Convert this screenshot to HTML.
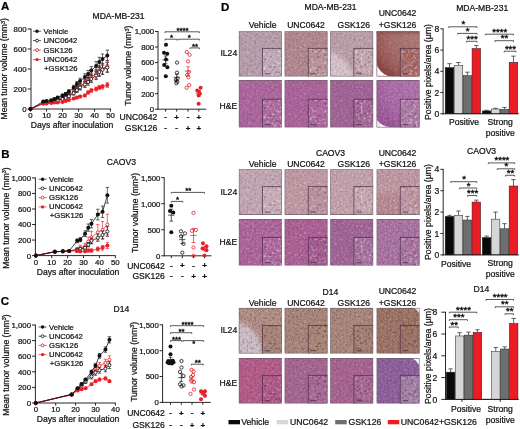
<!DOCTYPE html>
<html lang="en">
<head>
<meta charset="utf-8">
<title>Figure: tumor volume and IL24 staining</title>
<style>
html,body{margin:0;padding:0;background:#fff;}
body{width:520px;height:429px;overflow:hidden;}
body>svg{display:block;font-family:"Liberation Sans",sans-serif;filter:blur(0.3px);}
</style>
</head>
<body>
<svg width="520" height="429" viewBox="0 0 520 429">
<defs><filter id="tw0" x="0" y="0" width="100%" height="100%" color-interpolation-filters="sRGB"><feTurbulence type="fractalNoise" baseFrequency="0.45" numOctaves="2" seed="3"/><feColorMatrix type="matrix" values="0 0 0 0 1 0 0 0 0 1 0 0 0 0 1 3.4 0 0 0 -1.7"/><feComposite operator="in" in2="SourceGraphic"/></filter><filter id="td0" x="0" y="0" width="100%" height="100%" color-interpolation-filters="sRGB"><feTurbulence type="fractalNoise" baseFrequency="0.5" numOctaves="2" seed="11"/><feColorMatrix type="matrix" values="0 0 0 0 0.22 0 0 0 0 0.08 0 0 0 0 0.18 0 3.4 0 0 -1.7"/><feComposite operator="in" in2="SourceGraphic"/></filter><filter id="iw0" x="0" y="0" width="100%" height="100%" color-interpolation-filters="sRGB"><feTurbulence type="fractalNoise" baseFrequency="0.36" numOctaves="2" seed="23"/><feColorMatrix type="matrix" values="0 0 0 0 1 0 0 0 0 1 0 0 0 0 1 4 0 0 0 -2.1"/><feComposite operator="in" in2="SourceGraphic"/><feGaussianBlur stdDeviation="0.3"/></filter><filter id="id0" x="0" y="0" width="100%" height="100%" color-interpolation-filters="sRGB"><feTurbulence type="fractalNoise" baseFrequency="0.4" numOctaves="2" seed="41"/><feColorMatrix type="matrix" values="0 0 0 0 0.22 0 0 0 0 0.08 0 0 0 0 0.18 0 4 0 0 -2.1"/><feComposite operator="in" in2="SourceGraphic"/><feGaussianBlur stdDeviation="0.3"/></filter><filter id="tw1" x="0" y="0" width="100%" height="100%" color-interpolation-filters="sRGB"><feTurbulence type="fractalNoise" baseFrequency="0.45" numOctaves="2" seed="8"/><feColorMatrix type="matrix" values="0 0 0 0 1 0 0 0 0 1 0 0 0 0 1 3.4 0 0 0 -1.7"/><feComposite operator="in" in2="SourceGraphic"/></filter><filter id="td1" x="0" y="0" width="100%" height="100%" color-interpolation-filters="sRGB"><feTurbulence type="fractalNoise" baseFrequency="0.5" numOctaves="2" seed="18"/><feColorMatrix type="matrix" values="0 0 0 0 0.22 0 0 0 0 0.08 0 0 0 0 0.18 0 3.4 0 0 -1.7"/><feComposite operator="in" in2="SourceGraphic"/></filter><filter id="iw1" x="0" y="0" width="100%" height="100%" color-interpolation-filters="sRGB"><feTurbulence type="fractalNoise" baseFrequency="0.36" numOctaves="2" seed="26"/><feColorMatrix type="matrix" values="0 0 0 0 1 0 0 0 0 1 0 0 0 0 1 4 0 0 0 -2.1"/><feComposite operator="in" in2="SourceGraphic"/><feGaussianBlur stdDeviation="0.3"/></filter><filter id="id1" x="0" y="0" width="100%" height="100%" color-interpolation-filters="sRGB"><feTurbulence type="fractalNoise" baseFrequency="0.4" numOctaves="2" seed="44"/><feColorMatrix type="matrix" values="0 0 0 0 0.22 0 0 0 0 0.08 0 0 0 0 0.18 0 4 0 0 -2.1"/><feComposite operator="in" in2="SourceGraphic"/><feGaussianBlur stdDeviation="0.3"/></filter><filter id="tw2" x="0" y="0" width="100%" height="100%" color-interpolation-filters="sRGB"><feTurbulence type="fractalNoise" baseFrequency="0.45" numOctaves="2" seed="13"/><feColorMatrix type="matrix" values="0 0 0 0 1 0 0 0 0 1 0 0 0 0 1 3.4 0 0 0 -1.7"/><feComposite operator="in" in2="SourceGraphic"/></filter><filter id="td2" x="0" y="0" width="100%" height="100%" color-interpolation-filters="sRGB"><feTurbulence type="fractalNoise" baseFrequency="0.5" numOctaves="2" seed="25"/><feColorMatrix type="matrix" values="0 0 0 0 0.22 0 0 0 0 0.08 0 0 0 0 0.18 0 3.4 0 0 -1.7"/><feComposite operator="in" in2="SourceGraphic"/></filter><filter id="iw2" x="0" y="0" width="100%" height="100%" color-interpolation-filters="sRGB"><feTurbulence type="fractalNoise" baseFrequency="0.36" numOctaves="2" seed="29"/><feColorMatrix type="matrix" values="0 0 0 0 1 0 0 0 0 1 0 0 0 0 1 4 0 0 0 -2.1"/><feComposite operator="in" in2="SourceGraphic"/><feGaussianBlur stdDeviation="0.3"/></filter><filter id="id2" x="0" y="0" width="100%" height="100%" color-interpolation-filters="sRGB"><feTurbulence type="fractalNoise" baseFrequency="0.4" numOctaves="2" seed="47"/><feColorMatrix type="matrix" values="0 0 0 0 0.22 0 0 0 0 0.08 0 0 0 0 0.18 0 4 0 0 -2.1"/><feComposite operator="in" in2="SourceGraphic"/><feGaussianBlur stdDeviation="0.3"/></filter><filter id="tw3" x="0" y="0" width="100%" height="100%" color-interpolation-filters="sRGB"><feTurbulence type="fractalNoise" baseFrequency="0.45" numOctaves="2" seed="18"/><feColorMatrix type="matrix" values="0 0 0 0 1 0 0 0 0 1 0 0 0 0 1 3.4 0 0 0 -1.7"/><feComposite operator="in" in2="SourceGraphic"/></filter><filter id="td3" x="0" y="0" width="100%" height="100%" color-interpolation-filters="sRGB"><feTurbulence type="fractalNoise" baseFrequency="0.5" numOctaves="2" seed="32"/><feColorMatrix type="matrix" values="0 0 0 0 0.22 0 0 0 0 0.08 0 0 0 0 0.18 0 3.4 0 0 -1.7"/><feComposite operator="in" in2="SourceGraphic"/></filter><filter id="iw3" x="0" y="0" width="100%" height="100%" color-interpolation-filters="sRGB"><feTurbulence type="fractalNoise" baseFrequency="0.36" numOctaves="2" seed="32"/><feColorMatrix type="matrix" values="0 0 0 0 1 0 0 0 0 1 0 0 0 0 1 4 0 0 0 -2.1"/><feComposite operator="in" in2="SourceGraphic"/><feGaussianBlur stdDeviation="0.3"/></filter><filter id="id3" x="0" y="0" width="100%" height="100%" color-interpolation-filters="sRGB"><feTurbulence type="fractalNoise" baseFrequency="0.4" numOctaves="2" seed="50"/><feColorMatrix type="matrix" values="0 0 0 0 0.22 0 0 0 0 0.08 0 0 0 0 0.18 0 4 0 0 -2.1"/><feComposite operator="in" in2="SourceGraphic"/><feGaussianBlur stdDeviation="0.3"/></filter><radialGradient id="gM4" gradientUnits="userSpaceOnUse" cx="40" cy="4" r="50"><stop offset="0" stop-color="#ac7a76"/><stop offset="0.55" stop-color="#a46c6a"/><stop offset="0.8" stop-color="#9a5856"/><stop offset="0.95" stop-color="#894440"/><stop offset="1" stop-color="#894440"/></radialGradient><radialGradient id="gMH4" gradientUnits="userSpaceOnUse" cx="40" cy="4" r="52"><stop offset="0" stop-color="#ae72aa"/><stop offset="0.6" stop-color="#aa6aa8"/><stop offset="0.9" stop-color="#9a5896"/><stop offset="1" stop-color="#9a5896"/></radialGradient><filter id="soft" x="-30%" y="-30%" width="160%" height="160%"><feGaussianBlur stdDeviation="2.2"/></filter><filter id="soft1" x="-30%" y="-30%" width="160%" height="160%"><feGaussianBlur stdDeviation="0.6"/></filter><filter id="soft2" x="-30%" y="-60%" width="160%" height="220%"><feGaussianBlur stdDeviation="1.2"/></filter></defs>
<rect x="0" y="0" width="520" height="429" fill="#fff"/>
<g id="panelA">
<text x="1.00" y="9.80" font-size="11.5" font-weight="bold" fill="#000" stroke="#000" stroke-width="0.22">A</text>
<text x="118.50" y="19.30" font-size="8.6" text-anchor="middle" fill="#111" stroke="#111" stroke-width="0.22">MDA-MB-231</text>
<line x1="31.00" y1="28.60" x2="31.00" y2="109.40" stroke="#111" stroke-width="0.9"/>
<line x1="30.60" y1="109.00" x2="110.90" y2="109.00" stroke="#111" stroke-width="0.9"/>
<line x1="27.60" y1="109.00" x2="31.00" y2="109.00" stroke="#111" stroke-width="0.9"/>
<text x="26.60" y="111.90" font-size="7.8" text-anchor="end" fill="#111" stroke="#111" stroke-width="0.22">0</text>
<line x1="27.60" y1="89.00" x2="31.00" y2="89.00" stroke="#111" stroke-width="0.9"/>
<text x="26.60" y="91.90" font-size="7.8" text-anchor="end" fill="#111" stroke="#111" stroke-width="0.22">200</text>
<line x1="27.60" y1="69.00" x2="31.00" y2="69.00" stroke="#111" stroke-width="0.9"/>
<text x="26.60" y="71.90" font-size="7.8" text-anchor="end" fill="#111" stroke="#111" stroke-width="0.22">400</text>
<line x1="27.60" y1="49.00" x2="31.00" y2="49.00" stroke="#111" stroke-width="0.9"/>
<text x="26.60" y="51.90" font-size="7.8" text-anchor="end" fill="#111" stroke="#111" stroke-width="0.22">600</text>
<line x1="27.60" y1="29.00" x2="31.00" y2="29.00" stroke="#111" stroke-width="0.9"/>
<text x="26.60" y="31.90" font-size="7.8" text-anchor="end" fill="#111" stroke="#111" stroke-width="0.22">800</text>
<line x1="30.50" y1="109.00" x2="30.50" y2="111.60" stroke="#111" stroke-width="0.9"/>
<text x="30.50" y="118.20" font-size="7.8" text-anchor="middle" fill="#111" stroke="#111" stroke-width="0.22">0</text>
<line x1="46.50" y1="109.00" x2="46.50" y2="111.60" stroke="#111" stroke-width="0.9"/>
<text x="46.50" y="118.20" font-size="7.8" text-anchor="middle" fill="#111" stroke="#111" stroke-width="0.22">10</text>
<line x1="62.50" y1="109.00" x2="62.50" y2="111.60" stroke="#111" stroke-width="0.9"/>
<text x="62.50" y="118.20" font-size="7.8" text-anchor="middle" fill="#111" stroke="#111" stroke-width="0.22">20</text>
<line x1="78.50" y1="109.00" x2="78.50" y2="111.60" stroke="#111" stroke-width="0.9"/>
<text x="78.50" y="118.20" font-size="7.8" text-anchor="middle" fill="#111" stroke="#111" stroke-width="0.22">30</text>
<line x1="94.50" y1="109.00" x2="94.50" y2="111.60" stroke="#111" stroke-width="0.9"/>
<text x="94.50" y="118.20" font-size="7.8" text-anchor="middle" fill="#111" stroke="#111" stroke-width="0.22">40</text>
<line x1="110.50" y1="109.00" x2="110.50" y2="111.60" stroke="#111" stroke-width="0.9"/>
<text x="110.50" y="118.20" font-size="7.8" text-anchor="middle" fill="#111" stroke="#111" stroke-width="0.22">50</text>
<text x="7.40" y="68.80" font-size="8.6" text-anchor="middle" transform="rotate(-90 7.40 68.80)" fill="#111" stroke="#111" stroke-width="0.22">Mean tumor volume (mm<tspan font-size="5.5" dy="-2.6">3</tspan><tspan dy="2.6">)</tspan></text>
<text x="72.00" y="127.80" font-size="8.6" text-anchor="middle" fill="#111" stroke="#111" stroke-width="0.22">Days after inoculation</text>
<line x1="43.30" y1="101.99" x2="43.30" y2="103.61" stroke="#e8202a" stroke-width="0.65"/>
<line x1="41.60" y1="101.99" x2="45.00" y2="101.99" stroke="#e8202a" stroke-width="0.65"/>
<line x1="41.60" y1="103.61" x2="45.00" y2="103.61" stroke="#e8202a" stroke-width="0.65"/>
<line x1="46.50" y1="101.54" x2="46.50" y2="103.26" stroke="#e8202a" stroke-width="0.65"/>
<line x1="44.80" y1="101.54" x2="48.20" y2="101.54" stroke="#e8202a" stroke-width="0.65"/>
<line x1="44.80" y1="103.26" x2="48.20" y2="103.26" stroke="#e8202a" stroke-width="0.65"/>
<line x1="51.30" y1="100.64" x2="51.30" y2="102.56" stroke="#e8202a" stroke-width="0.65"/>
<line x1="49.60" y1="100.64" x2="53.00" y2="100.64" stroke="#e8202a" stroke-width="0.65"/>
<line x1="49.60" y1="102.56" x2="53.00" y2="102.56" stroke="#e8202a" stroke-width="0.65"/>
<line x1="54.50" y1="99.73" x2="54.50" y2="101.87" stroke="#e8202a" stroke-width="0.65"/>
<line x1="52.80" y1="99.73" x2="56.20" y2="99.73" stroke="#e8202a" stroke-width="0.65"/>
<line x1="52.80" y1="101.87" x2="56.20" y2="101.87" stroke="#e8202a" stroke-width="0.65"/>
<line x1="57.70" y1="98.60" x2="57.70" y2="101.00" stroke="#e8202a" stroke-width="0.65"/>
<line x1="56.00" y1="98.60" x2="59.40" y2="98.60" stroke="#e8202a" stroke-width="0.65"/>
<line x1="56.00" y1="101.00" x2="59.40" y2="101.00" stroke="#e8202a" stroke-width="0.65"/>
<line x1="62.50" y1="96.80" x2="62.50" y2="99.60" stroke="#e8202a" stroke-width="0.65"/>
<line x1="60.80" y1="96.80" x2="64.20" y2="96.80" stroke="#e8202a" stroke-width="0.65"/>
<line x1="60.80" y1="99.60" x2="64.20" y2="99.60" stroke="#e8202a" stroke-width="0.65"/>
<line x1="65.70" y1="95.21" x2="65.70" y2="98.39" stroke="#e8202a" stroke-width="0.65"/>
<line x1="64.00" y1="95.21" x2="67.40" y2="95.21" stroke="#e8202a" stroke-width="0.65"/>
<line x1="64.00" y1="98.39" x2="67.40" y2="98.39" stroke="#e8202a" stroke-width="0.65"/>
<line x1="68.90" y1="93.18" x2="68.90" y2="96.82" stroke="#e8202a" stroke-width="0.65"/>
<line x1="67.20" y1="93.18" x2="70.60" y2="93.18" stroke="#e8202a" stroke-width="0.65"/>
<line x1="67.20" y1="96.82" x2="70.60" y2="96.82" stroke="#e8202a" stroke-width="0.65"/>
<line x1="73.70" y1="89.56" x2="73.70" y2="94.04" stroke="#e8202a" stroke-width="0.65"/>
<line x1="72.00" y1="89.56" x2="75.40" y2="89.56" stroke="#e8202a" stroke-width="0.65"/>
<line x1="72.00" y1="94.04" x2="75.40" y2="94.04" stroke="#e8202a" stroke-width="0.65"/>
<line x1="76.90" y1="86.40" x2="76.90" y2="91.60" stroke="#e8202a" stroke-width="0.65"/>
<line x1="75.20" y1="86.40" x2="78.60" y2="86.40" stroke="#e8202a" stroke-width="0.65"/>
<line x1="75.20" y1="91.60" x2="78.60" y2="91.60" stroke="#e8202a" stroke-width="0.65"/>
<line x1="80.10" y1="83.24" x2="80.10" y2="89.16" stroke="#e8202a" stroke-width="0.65"/>
<line x1="78.40" y1="83.24" x2="81.80" y2="83.24" stroke="#e8202a" stroke-width="0.65"/>
<line x1="78.40" y1="89.16" x2="81.80" y2="89.16" stroke="#e8202a" stroke-width="0.65"/>
<line x1="84.90" y1="79.39" x2="84.90" y2="86.21" stroke="#e8202a" stroke-width="0.65"/>
<line x1="83.20" y1="79.39" x2="86.60" y2="79.39" stroke="#e8202a" stroke-width="0.65"/>
<line x1="83.20" y1="86.21" x2="86.60" y2="86.21" stroke="#e8202a" stroke-width="0.65"/>
<line x1="88.10" y1="76.23" x2="88.10" y2="83.77" stroke="#e8202a" stroke-width="0.65"/>
<line x1="86.40" y1="76.23" x2="89.80" y2="76.23" stroke="#e8202a" stroke-width="0.65"/>
<line x1="86.40" y1="83.77" x2="89.80" y2="83.77" stroke="#e8202a" stroke-width="0.65"/>
<line x1="91.30" y1="73.07" x2="91.30" y2="81.33" stroke="#e8202a" stroke-width="0.65"/>
<line x1="89.60" y1="73.07" x2="93.00" y2="73.07" stroke="#e8202a" stroke-width="0.65"/>
<line x1="89.60" y1="81.33" x2="93.00" y2="81.33" stroke="#e8202a" stroke-width="0.65"/>
<line x1="96.10" y1="69.22" x2="96.10" y2="78.38" stroke="#e8202a" stroke-width="0.65"/>
<line x1="94.40" y1="69.22" x2="97.80" y2="69.22" stroke="#e8202a" stroke-width="0.65"/>
<line x1="94.40" y1="78.38" x2="97.80" y2="78.38" stroke="#e8202a" stroke-width="0.65"/>
<line x1="99.30" y1="65.50" x2="99.30" y2="75.50" stroke="#e8202a" stroke-width="0.65"/>
<line x1="97.60" y1="65.50" x2="101.00" y2="65.50" stroke="#e8202a" stroke-width="0.65"/>
<line x1="97.60" y1="75.50" x2="101.00" y2="75.50" stroke="#e8202a" stroke-width="0.65"/>
<line x1="102.50" y1="63.23" x2="102.50" y2="73.77" stroke="#e8202a" stroke-width="0.65"/>
<line x1="100.80" y1="63.23" x2="104.20" y2="63.23" stroke="#e8202a" stroke-width="0.65"/>
<line x1="100.80" y1="73.77" x2="104.20" y2="73.77" stroke="#e8202a" stroke-width="0.65"/>
<line x1="107.30" y1="60.41" x2="107.30" y2="71.59" stroke="#e8202a" stroke-width="0.65"/>
<line x1="105.60" y1="60.41" x2="109.00" y2="60.41" stroke="#e8202a" stroke-width="0.65"/>
<line x1="105.60" y1="71.59" x2="109.00" y2="71.59" stroke="#e8202a" stroke-width="0.65"/>
<polyline points="30.50,109.00 43.30,102.80 46.50,102.40 51.30,101.60 54.50,100.80 57.70,99.80 62.50,98.20 65.70,96.80 68.90,95.00 73.70,91.80 76.90,89.00 80.10,86.20 84.90,82.80 88.10,80.00 91.30,77.20 96.10,73.80 99.30,70.50 102.50,68.50 107.30,66.00" fill="none" stroke="#e8202a" stroke-width="0.8"/>
<circle cx="30.50" cy="109.00" r="1.55" fill="#fff" stroke="#e8202a" stroke-width="0.85"/>
<circle cx="43.30" cy="102.80" r="1.55" fill="#fff" stroke="#e8202a" stroke-width="0.85"/>
<circle cx="46.50" cy="102.40" r="1.55" fill="#fff" stroke="#e8202a" stroke-width="0.85"/>
<circle cx="51.30" cy="101.60" r="1.55" fill="#fff" stroke="#e8202a" stroke-width="0.85"/>
<circle cx="54.50" cy="100.80" r="1.55" fill="#fff" stroke="#e8202a" stroke-width="0.85"/>
<circle cx="57.70" cy="99.80" r="1.55" fill="#fff" stroke="#e8202a" stroke-width="0.85"/>
<circle cx="62.50" cy="98.20" r="1.55" fill="#fff" stroke="#e8202a" stroke-width="0.85"/>
<circle cx="65.70" cy="96.80" r="1.55" fill="#fff" stroke="#e8202a" stroke-width="0.85"/>
<circle cx="68.90" cy="95.00" r="1.55" fill="#fff" stroke="#e8202a" stroke-width="0.85"/>
<circle cx="73.70" cy="91.80" r="1.55" fill="#fff" stroke="#e8202a" stroke-width="0.85"/>
<circle cx="76.90" cy="89.00" r="1.55" fill="#fff" stroke="#e8202a" stroke-width="0.85"/>
<circle cx="80.10" cy="86.20" r="1.55" fill="#fff" stroke="#e8202a" stroke-width="0.85"/>
<circle cx="84.90" cy="82.80" r="1.55" fill="#fff" stroke="#e8202a" stroke-width="0.85"/>
<circle cx="88.10" cy="80.00" r="1.55" fill="#fff" stroke="#e8202a" stroke-width="0.85"/>
<circle cx="91.30" cy="77.20" r="1.55" fill="#fff" stroke="#e8202a" stroke-width="0.85"/>
<circle cx="96.10" cy="73.80" r="1.55" fill="#fff" stroke="#e8202a" stroke-width="0.85"/>
<circle cx="99.30" cy="70.50" r="1.55" fill="#fff" stroke="#e8202a" stroke-width="0.85"/>
<circle cx="102.50" cy="68.50" r="1.55" fill="#fff" stroke="#e8202a" stroke-width="0.85"/>
<circle cx="107.30" cy="66.00" r="1.55" fill="#fff" stroke="#e8202a" stroke-width="0.85"/>
<line x1="43.30" y1="102.84" x2="43.30" y2="104.16" stroke="#111" stroke-width="0.65"/>
<line x1="41.60" y1="102.84" x2="45.00" y2="102.84" stroke="#111" stroke-width="0.65"/>
<line x1="41.60" y1="104.16" x2="45.00" y2="104.16" stroke="#111" stroke-width="0.65"/>
<line x1="46.50" y1="102.28" x2="46.50" y2="103.72" stroke="#111" stroke-width="0.65"/>
<line x1="44.80" y1="102.28" x2="48.20" y2="102.28" stroke="#111" stroke-width="0.65"/>
<line x1="44.80" y1="103.72" x2="48.20" y2="103.72" stroke="#111" stroke-width="0.65"/>
<line x1="51.30" y1="101.16" x2="51.30" y2="102.84" stroke="#111" stroke-width="0.65"/>
<line x1="49.60" y1="101.16" x2="53.00" y2="101.16" stroke="#111" stroke-width="0.65"/>
<line x1="49.60" y1="102.84" x2="53.00" y2="102.84" stroke="#111" stroke-width="0.65"/>
<line x1="54.50" y1="100.60" x2="54.50" y2="102.40" stroke="#111" stroke-width="0.65"/>
<line x1="52.80" y1="100.60" x2="56.20" y2="100.60" stroke="#111" stroke-width="0.65"/>
<line x1="52.80" y1="102.40" x2="56.20" y2="102.40" stroke="#111" stroke-width="0.65"/>
<line x1="57.70" y1="99.48" x2="57.70" y2="101.52" stroke="#111" stroke-width="0.65"/>
<line x1="56.00" y1="99.48" x2="59.40" y2="99.48" stroke="#111" stroke-width="0.65"/>
<line x1="56.00" y1="101.52" x2="59.40" y2="101.52" stroke="#111" stroke-width="0.65"/>
<line x1="62.50" y1="97.80" x2="62.50" y2="100.20" stroke="#111" stroke-width="0.65"/>
<line x1="60.80" y1="97.80" x2="64.20" y2="97.80" stroke="#111" stroke-width="0.65"/>
<line x1="60.80" y1="100.20" x2="64.20" y2="100.20" stroke="#111" stroke-width="0.65"/>
<line x1="65.70" y1="96.46" x2="65.70" y2="99.14" stroke="#111" stroke-width="0.65"/>
<line x1="64.00" y1="96.46" x2="67.40" y2="96.46" stroke="#111" stroke-width="0.65"/>
<line x1="64.00" y1="99.14" x2="67.40" y2="99.14" stroke="#111" stroke-width="0.65"/>
<line x1="68.90" y1="94.66" x2="68.90" y2="97.74" stroke="#111" stroke-width="0.65"/>
<line x1="67.20" y1="94.66" x2="70.60" y2="94.66" stroke="#111" stroke-width="0.65"/>
<line x1="67.20" y1="97.74" x2="70.60" y2="97.74" stroke="#111" stroke-width="0.65"/>
<line x1="73.70" y1="91.30" x2="73.70" y2="95.10" stroke="#111" stroke-width="0.65"/>
<line x1="72.00" y1="91.30" x2="75.40" y2="91.30" stroke="#111" stroke-width="0.65"/>
<line x1="72.00" y1="95.10" x2="75.40" y2="95.10" stroke="#111" stroke-width="0.65"/>
<line x1="76.90" y1="87.94" x2="76.90" y2="92.46" stroke="#111" stroke-width="0.65"/>
<line x1="75.20" y1="87.94" x2="78.60" y2="87.94" stroke="#111" stroke-width="0.65"/>
<line x1="75.20" y1="92.46" x2="78.60" y2="92.46" stroke="#111" stroke-width="0.65"/>
<line x1="80.10" y1="84.92" x2="80.10" y2="90.08" stroke="#111" stroke-width="0.65"/>
<line x1="78.40" y1="84.92" x2="81.80" y2="84.92" stroke="#111" stroke-width="0.65"/>
<line x1="78.40" y1="90.08" x2="81.80" y2="90.08" stroke="#111" stroke-width="0.65"/>
<line x1="84.90" y1="81.56" x2="84.90" y2="87.44" stroke="#111" stroke-width="0.65"/>
<line x1="83.20" y1="81.56" x2="86.60" y2="81.56" stroke="#111" stroke-width="0.65"/>
<line x1="83.20" y1="87.44" x2="86.60" y2="87.44" stroke="#111" stroke-width="0.65"/>
<line x1="88.10" y1="78.76" x2="88.10" y2="85.24" stroke="#111" stroke-width="0.65"/>
<line x1="86.40" y1="78.76" x2="89.80" y2="78.76" stroke="#111" stroke-width="0.65"/>
<line x1="86.40" y1="85.24" x2="89.80" y2="85.24" stroke="#111" stroke-width="0.65"/>
<line x1="91.30" y1="75.40" x2="91.30" y2="82.60" stroke="#111" stroke-width="0.65"/>
<line x1="89.60" y1="75.40" x2="93.00" y2="75.40" stroke="#111" stroke-width="0.65"/>
<line x1="89.60" y1="82.60" x2="93.00" y2="82.60" stroke="#111" stroke-width="0.65"/>
<line x1="96.10" y1="71.48" x2="96.10" y2="79.52" stroke="#111" stroke-width="0.65"/>
<line x1="94.40" y1="71.48" x2="97.80" y2="71.48" stroke="#111" stroke-width="0.65"/>
<line x1="94.40" y1="79.52" x2="97.80" y2="79.52" stroke="#111" stroke-width="0.65"/>
<line x1="99.30" y1="67.56" x2="99.30" y2="76.44" stroke="#111" stroke-width="0.65"/>
<line x1="97.60" y1="67.56" x2="101.00" y2="67.56" stroke="#111" stroke-width="0.65"/>
<line x1="97.60" y1="76.44" x2="101.00" y2="76.44" stroke="#111" stroke-width="0.65"/>
<line x1="102.50" y1="65.10" x2="102.50" y2="74.50" stroke="#111" stroke-width="0.65"/>
<line x1="100.80" y1="65.10" x2="104.20" y2="65.10" stroke="#111" stroke-width="0.65"/>
<line x1="100.80" y1="74.50" x2="104.20" y2="74.50" stroke="#111" stroke-width="0.65"/>
<line x1="107.30" y1="62.52" x2="107.30" y2="72.48" stroke="#111" stroke-width="0.65"/>
<line x1="105.60" y1="62.52" x2="109.00" y2="62.52" stroke="#111" stroke-width="0.65"/>
<line x1="105.60" y1="72.48" x2="109.00" y2="72.48" stroke="#111" stroke-width="0.65"/>
<polyline points="30.50,109.00 43.30,103.50 46.50,103.00 51.30,102.00 54.50,101.50 57.70,100.50 62.50,99.00 65.70,97.80 68.90,96.20 73.70,93.20 76.90,90.20 80.10,87.50 84.90,84.50 88.10,82.00 91.30,79.00 96.10,75.50 99.30,72.00 102.50,69.80 107.30,67.50" fill="none" stroke="#111" stroke-width="0.8"/>
<circle cx="30.50" cy="109.00" r="1.55" fill="#fff" stroke="#111" stroke-width="0.85"/>
<circle cx="43.30" cy="103.50" r="1.55" fill="#fff" stroke="#111" stroke-width="0.85"/>
<circle cx="46.50" cy="103.00" r="1.55" fill="#fff" stroke="#111" stroke-width="0.85"/>
<circle cx="51.30" cy="102.00" r="1.55" fill="#fff" stroke="#111" stroke-width="0.85"/>
<circle cx="54.50" cy="101.50" r="1.55" fill="#fff" stroke="#111" stroke-width="0.85"/>
<circle cx="57.70" cy="100.50" r="1.55" fill="#fff" stroke="#111" stroke-width="0.85"/>
<circle cx="62.50" cy="99.00" r="1.55" fill="#fff" stroke="#111" stroke-width="0.85"/>
<circle cx="65.70" cy="97.80" r="1.55" fill="#fff" stroke="#111" stroke-width="0.85"/>
<circle cx="68.90" cy="96.20" r="1.55" fill="#fff" stroke="#111" stroke-width="0.85"/>
<circle cx="73.70" cy="93.20" r="1.55" fill="#fff" stroke="#111" stroke-width="0.85"/>
<circle cx="76.90" cy="90.20" r="1.55" fill="#fff" stroke="#111" stroke-width="0.85"/>
<circle cx="80.10" cy="87.50" r="1.55" fill="#fff" stroke="#111" stroke-width="0.85"/>
<circle cx="84.90" cy="84.50" r="1.55" fill="#fff" stroke="#111" stroke-width="0.85"/>
<circle cx="88.10" cy="82.00" r="1.55" fill="#fff" stroke="#111" stroke-width="0.85"/>
<circle cx="91.30" cy="79.00" r="1.55" fill="#fff" stroke="#111" stroke-width="0.85"/>
<circle cx="96.10" cy="75.50" r="1.55" fill="#fff" stroke="#111" stroke-width="0.85"/>
<circle cx="99.30" cy="72.00" r="1.55" fill="#fff" stroke="#111" stroke-width="0.85"/>
<circle cx="102.50" cy="69.80" r="1.55" fill="#fff" stroke="#111" stroke-width="0.85"/>
<circle cx="107.30" cy="67.50" r="1.55" fill="#fff" stroke="#111" stroke-width="0.85"/>
<line x1="43.30" y1="102.95" x2="43.30" y2="104.05" stroke="#e8202a" stroke-width="0.65"/>
<line x1="41.60" y1="102.95" x2="45.00" y2="102.95" stroke="#e8202a" stroke-width="0.65"/>
<line x1="41.60" y1="104.05" x2="45.00" y2="104.05" stroke="#e8202a" stroke-width="0.65"/>
<line x1="46.50" y1="102.95" x2="46.50" y2="104.05" stroke="#e8202a" stroke-width="0.65"/>
<line x1="44.80" y1="102.95" x2="48.20" y2="102.95" stroke="#e8202a" stroke-width="0.65"/>
<line x1="44.80" y1="104.05" x2="48.20" y2="104.05" stroke="#e8202a" stroke-width="0.65"/>
<line x1="51.30" y1="102.40" x2="51.30" y2="103.60" stroke="#e8202a" stroke-width="0.65"/>
<line x1="49.60" y1="102.40" x2="53.00" y2="102.40" stroke="#e8202a" stroke-width="0.65"/>
<line x1="49.60" y1="103.60" x2="53.00" y2="103.60" stroke="#e8202a" stroke-width="0.65"/>
<line x1="54.50" y1="101.96" x2="54.50" y2="103.24" stroke="#e8202a" stroke-width="0.65"/>
<line x1="52.80" y1="101.96" x2="56.20" y2="101.96" stroke="#e8202a" stroke-width="0.65"/>
<line x1="52.80" y1="103.24" x2="56.20" y2="103.24" stroke="#e8202a" stroke-width="0.65"/>
<line x1="57.70" y1="101.74" x2="57.70" y2="103.06" stroke="#e8202a" stroke-width="0.65"/>
<line x1="56.00" y1="101.74" x2="59.40" y2="101.74" stroke="#e8202a" stroke-width="0.65"/>
<line x1="56.00" y1="103.06" x2="59.40" y2="103.06" stroke="#e8202a" stroke-width="0.65"/>
<line x1="62.50" y1="101.30" x2="62.50" y2="102.70" stroke="#e8202a" stroke-width="0.65"/>
<line x1="60.80" y1="101.30" x2="64.20" y2="101.30" stroke="#e8202a" stroke-width="0.65"/>
<line x1="60.80" y1="102.70" x2="64.20" y2="102.70" stroke="#e8202a" stroke-width="0.65"/>
<line x1="65.70" y1="100.20" x2="65.70" y2="101.80" stroke="#e8202a" stroke-width="0.65"/>
<line x1="64.00" y1="100.20" x2="67.40" y2="100.20" stroke="#e8202a" stroke-width="0.65"/>
<line x1="64.00" y1="101.80" x2="67.40" y2="101.80" stroke="#e8202a" stroke-width="0.65"/>
<line x1="68.90" y1="99.10" x2="68.90" y2="100.90" stroke="#e8202a" stroke-width="0.65"/>
<line x1="67.20" y1="99.10" x2="70.60" y2="99.10" stroke="#e8202a" stroke-width="0.65"/>
<line x1="67.20" y1="100.90" x2="70.60" y2="100.90" stroke="#e8202a" stroke-width="0.65"/>
<line x1="73.70" y1="97.56" x2="73.70" y2="99.64" stroke="#e8202a" stroke-width="0.65"/>
<line x1="72.00" y1="97.56" x2="75.40" y2="97.56" stroke="#e8202a" stroke-width="0.65"/>
<line x1="72.00" y1="99.64" x2="75.40" y2="99.64" stroke="#e8202a" stroke-width="0.65"/>
<line x1="76.90" y1="96.46" x2="76.90" y2="98.74" stroke="#e8202a" stroke-width="0.65"/>
<line x1="75.20" y1="96.46" x2="78.60" y2="96.46" stroke="#e8202a" stroke-width="0.65"/>
<line x1="75.20" y1="98.74" x2="78.60" y2="98.74" stroke="#e8202a" stroke-width="0.65"/>
<line x1="80.10" y1="95.36" x2="80.10" y2="97.84" stroke="#e8202a" stroke-width="0.65"/>
<line x1="78.40" y1="95.36" x2="81.80" y2="95.36" stroke="#e8202a" stroke-width="0.65"/>
<line x1="78.40" y1="97.84" x2="81.80" y2="97.84" stroke="#e8202a" stroke-width="0.65"/>
<line x1="84.90" y1="94.04" x2="84.90" y2="96.76" stroke="#e8202a" stroke-width="0.65"/>
<line x1="83.20" y1="94.04" x2="86.60" y2="94.04" stroke="#e8202a" stroke-width="0.65"/>
<line x1="83.20" y1="96.76" x2="86.60" y2="96.76" stroke="#e8202a" stroke-width="0.65"/>
<line x1="88.10" y1="90.85" x2="88.10" y2="94.15" stroke="#e8202a" stroke-width="0.65"/>
<line x1="86.40" y1="90.85" x2="89.80" y2="90.85" stroke="#e8202a" stroke-width="0.65"/>
<line x1="86.40" y1="94.15" x2="89.80" y2="94.15" stroke="#e8202a" stroke-width="0.65"/>
<line x1="91.30" y1="88.65" x2="91.30" y2="92.35" stroke="#e8202a" stroke-width="0.65"/>
<line x1="89.60" y1="88.65" x2="93.00" y2="88.65" stroke="#e8202a" stroke-width="0.65"/>
<line x1="89.60" y1="92.35" x2="93.00" y2="92.35" stroke="#e8202a" stroke-width="0.65"/>
<line x1="96.10" y1="87.00" x2="96.10" y2="91.00" stroke="#e8202a" stroke-width="0.65"/>
<line x1="94.40" y1="87.00" x2="97.80" y2="87.00" stroke="#e8202a" stroke-width="0.65"/>
<line x1="94.40" y1="91.00" x2="97.80" y2="91.00" stroke="#e8202a" stroke-width="0.65"/>
<line x1="99.30" y1="85.46" x2="99.30" y2="89.74" stroke="#e8202a" stroke-width="0.65"/>
<line x1="97.60" y1="85.46" x2="101.00" y2="85.46" stroke="#e8202a" stroke-width="0.65"/>
<line x1="97.60" y1="89.74" x2="101.00" y2="89.74" stroke="#e8202a" stroke-width="0.65"/>
<line x1="102.50" y1="84.58" x2="102.50" y2="89.02" stroke="#e8202a" stroke-width="0.65"/>
<line x1="100.80" y1="84.58" x2="104.20" y2="84.58" stroke="#e8202a" stroke-width="0.65"/>
<line x1="100.80" y1="89.02" x2="104.20" y2="89.02" stroke="#e8202a" stroke-width="0.65"/>
<line x1="107.30" y1="82.60" x2="107.30" y2="87.40" stroke="#e8202a" stroke-width="0.65"/>
<line x1="105.60" y1="82.60" x2="109.00" y2="82.60" stroke="#e8202a" stroke-width="0.65"/>
<line x1="105.60" y1="87.40" x2="109.00" y2="87.40" stroke="#e8202a" stroke-width="0.65"/>
<polyline points="30.50,109.00 43.30,103.50 46.50,103.50 51.30,103.00 54.50,102.60 57.70,102.40 62.50,102.00 65.70,101.00 68.90,100.00 73.70,98.60 76.90,97.60 80.10,96.60 84.90,95.40 88.10,92.50 91.30,90.50 96.10,89.00 99.30,87.60 102.50,86.80 107.30,85.00" fill="none" stroke="#e8202a" stroke-width="0.8"/>
<circle cx="30.50" cy="109.00" r="2.0" fill="#e8202a"/>
<circle cx="43.30" cy="103.50" r="2.0" fill="#e8202a"/>
<circle cx="46.50" cy="103.50" r="2.0" fill="#e8202a"/>
<circle cx="51.30" cy="103.00" r="2.0" fill="#e8202a"/>
<circle cx="54.50" cy="102.60" r="2.0" fill="#e8202a"/>
<circle cx="57.70" cy="102.40" r="2.0" fill="#e8202a"/>
<circle cx="62.50" cy="102.00" r="2.0" fill="#e8202a"/>
<circle cx="65.70" cy="101.00" r="2.0" fill="#e8202a"/>
<circle cx="68.90" cy="100.00" r="2.0" fill="#e8202a"/>
<circle cx="73.70" cy="98.60" r="2.0" fill="#e8202a"/>
<circle cx="76.90" cy="97.60" r="2.0" fill="#e8202a"/>
<circle cx="80.10" cy="96.60" r="2.0" fill="#e8202a"/>
<circle cx="84.90" cy="95.40" r="2.0" fill="#e8202a"/>
<circle cx="88.10" cy="92.50" r="2.0" fill="#e8202a"/>
<circle cx="91.30" cy="90.50" r="2.0" fill="#e8202a"/>
<circle cx="96.10" cy="89.00" r="2.0" fill="#e8202a"/>
<circle cx="99.30" cy="87.60" r="2.0" fill="#e8202a"/>
<circle cx="102.50" cy="86.80" r="2.0" fill="#e8202a"/>
<circle cx="107.30" cy="85.00" r="2.0" fill="#e8202a"/>
<line x1="43.30" y1="100.75" x2="43.30" y2="102.25" stroke="#111" stroke-width="0.65"/>
<line x1="41.60" y1="100.75" x2="45.00" y2="100.75" stroke="#111" stroke-width="0.65"/>
<line x1="41.60" y1="102.25" x2="45.00" y2="102.25" stroke="#111" stroke-width="0.65"/>
<line x1="46.50" y1="100.20" x2="46.50" y2="101.80" stroke="#111" stroke-width="0.65"/>
<line x1="44.80" y1="100.20" x2="48.20" y2="100.20" stroke="#111" stroke-width="0.65"/>
<line x1="44.80" y1="101.80" x2="48.20" y2="101.80" stroke="#111" stroke-width="0.65"/>
<line x1="51.30" y1="99.32" x2="51.30" y2="101.08" stroke="#111" stroke-width="0.65"/>
<line x1="49.60" y1="99.32" x2="53.00" y2="99.32" stroke="#111" stroke-width="0.65"/>
<line x1="49.60" y1="101.08" x2="53.00" y2="101.08" stroke="#111" stroke-width="0.65"/>
<line x1="54.50" y1="98.00" x2="54.50" y2="100.00" stroke="#111" stroke-width="0.65"/>
<line x1="52.80" y1="98.00" x2="56.20" y2="98.00" stroke="#111" stroke-width="0.65"/>
<line x1="52.80" y1="100.00" x2="56.20" y2="100.00" stroke="#111" stroke-width="0.65"/>
<line x1="57.70" y1="96.35" x2="57.70" y2="98.65" stroke="#111" stroke-width="0.65"/>
<line x1="56.00" y1="96.35" x2="59.40" y2="96.35" stroke="#111" stroke-width="0.65"/>
<line x1="56.00" y1="98.65" x2="59.40" y2="98.65" stroke="#111" stroke-width="0.65"/>
<line x1="62.50" y1="94.15" x2="62.50" y2="96.85" stroke="#111" stroke-width="0.65"/>
<line x1="60.80" y1="94.15" x2="64.20" y2="94.15" stroke="#111" stroke-width="0.65"/>
<line x1="60.80" y1="96.85" x2="64.20" y2="96.85" stroke="#111" stroke-width="0.65"/>
<line x1="65.70" y1="92.50" x2="65.70" y2="95.50" stroke="#111" stroke-width="0.65"/>
<line x1="64.00" y1="92.50" x2="67.40" y2="92.50" stroke="#111" stroke-width="0.65"/>
<line x1="64.00" y1="95.50" x2="67.40" y2="95.50" stroke="#111" stroke-width="0.65"/>
<line x1="68.90" y1="89.75" x2="68.90" y2="93.25" stroke="#111" stroke-width="0.65"/>
<line x1="67.20" y1="89.75" x2="70.60" y2="89.75" stroke="#111" stroke-width="0.65"/>
<line x1="67.20" y1="93.25" x2="70.60" y2="93.25" stroke="#111" stroke-width="0.65"/>
<line x1="73.70" y1="85.35" x2="73.70" y2="89.65" stroke="#111" stroke-width="0.65"/>
<line x1="72.00" y1="85.35" x2="75.40" y2="85.35" stroke="#111" stroke-width="0.65"/>
<line x1="72.00" y1="89.65" x2="75.40" y2="89.65" stroke="#111" stroke-width="0.65"/>
<line x1="76.90" y1="81.50" x2="76.90" y2="86.50" stroke="#111" stroke-width="0.65"/>
<line x1="75.20" y1="81.50" x2="78.60" y2="81.50" stroke="#111" stroke-width="0.65"/>
<line x1="75.20" y1="86.50" x2="78.60" y2="86.50" stroke="#111" stroke-width="0.65"/>
<line x1="80.10" y1="78.20" x2="80.10" y2="83.80" stroke="#111" stroke-width="0.65"/>
<line x1="78.40" y1="78.20" x2="81.80" y2="78.20" stroke="#111" stroke-width="0.65"/>
<line x1="78.40" y1="83.80" x2="81.80" y2="83.80" stroke="#111" stroke-width="0.65"/>
<line x1="84.90" y1="73.80" x2="84.90" y2="80.20" stroke="#111" stroke-width="0.65"/>
<line x1="83.20" y1="73.80" x2="86.60" y2="73.80" stroke="#111" stroke-width="0.65"/>
<line x1="83.20" y1="80.20" x2="86.60" y2="80.20" stroke="#111" stroke-width="0.65"/>
<line x1="88.10" y1="70.50" x2="88.10" y2="77.50" stroke="#111" stroke-width="0.65"/>
<line x1="86.40" y1="70.50" x2="89.80" y2="70.50" stroke="#111" stroke-width="0.65"/>
<line x1="86.40" y1="77.50" x2="89.80" y2="77.50" stroke="#111" stroke-width="0.65"/>
<line x1="91.30" y1="66.65" x2="91.30" y2="74.35" stroke="#111" stroke-width="0.65"/>
<line x1="89.60" y1="66.65" x2="93.00" y2="66.65" stroke="#111" stroke-width="0.65"/>
<line x1="89.60" y1="74.35" x2="93.00" y2="74.35" stroke="#111" stroke-width="0.65"/>
<line x1="96.10" y1="61.70" x2="96.10" y2="70.30" stroke="#111" stroke-width="0.65"/>
<line x1="94.40" y1="61.70" x2="97.80" y2="61.70" stroke="#111" stroke-width="0.65"/>
<line x1="94.40" y1="70.30" x2="97.80" y2="70.30" stroke="#111" stroke-width="0.65"/>
<line x1="99.30" y1="57.30" x2="99.30" y2="66.70" stroke="#111" stroke-width="0.65"/>
<line x1="97.60" y1="57.30" x2="101.00" y2="57.30" stroke="#111" stroke-width="0.65"/>
<line x1="97.60" y1="66.70" x2="101.00" y2="66.70" stroke="#111" stroke-width="0.65"/>
<line x1="102.50" y1="54.00" x2="102.50" y2="64.00" stroke="#111" stroke-width="0.65"/>
<line x1="100.80" y1="54.00" x2="104.20" y2="54.00" stroke="#111" stroke-width="0.65"/>
<line x1="100.80" y1="64.00" x2="104.20" y2="64.00" stroke="#111" stroke-width="0.65"/>
<line x1="107.30" y1="50.15" x2="107.30" y2="60.85" stroke="#111" stroke-width="0.65"/>
<line x1="105.60" y1="50.15" x2="109.00" y2="50.15" stroke="#111" stroke-width="0.65"/>
<line x1="105.60" y1="60.85" x2="109.00" y2="60.85" stroke="#111" stroke-width="0.65"/>
<polyline points="30.50,109.00 43.30,101.50 46.50,101.00 51.30,100.20 54.50,99.00 57.70,97.50 62.50,95.50 65.70,94.00 68.90,91.50 73.70,87.50 76.90,84.00 80.10,81.00 84.90,77.00 88.10,74.00 91.30,70.50 96.10,66.00 99.30,62.00 102.50,59.00 107.30,55.50" fill="none" stroke="#111" stroke-width="0.8"/>
<circle cx="30.50" cy="109.00" r="2.0" fill="#111"/>
<circle cx="43.30" cy="101.50" r="2.0" fill="#111"/>
<circle cx="46.50" cy="101.00" r="2.0" fill="#111"/>
<circle cx="51.30" cy="100.20" r="2.0" fill="#111"/>
<circle cx="54.50" cy="99.00" r="2.0" fill="#111"/>
<circle cx="57.70" cy="97.50" r="2.0" fill="#111"/>
<circle cx="62.50" cy="95.50" r="2.0" fill="#111"/>
<circle cx="65.70" cy="94.00" r="2.0" fill="#111"/>
<circle cx="68.90" cy="91.50" r="2.0" fill="#111"/>
<circle cx="73.70" cy="87.50" r="2.0" fill="#111"/>
<circle cx="76.90" cy="84.00" r="2.0" fill="#111"/>
<circle cx="80.10" cy="81.00" r="2.0" fill="#111"/>
<circle cx="84.90" cy="77.00" r="2.0" fill="#111"/>
<circle cx="88.10" cy="74.00" r="2.0" fill="#111"/>
<circle cx="91.30" cy="70.50" r="2.0" fill="#111"/>
<circle cx="96.10" cy="66.00" r="2.0" fill="#111"/>
<circle cx="99.30" cy="62.00" r="2.0" fill="#111"/>
<circle cx="102.50" cy="59.00" r="2.0" fill="#111"/>
<circle cx="107.30" cy="55.50" r="2.0" fill="#111"/>
<line x1="33.00" y1="31.20" x2="41.00" y2="31.20" stroke="#111" stroke-width="0.7"/>
<circle cx="37.00" cy="31.20" r="1.7" fill="#111"/>
<text x="43.50" y="33.70" font-size="7.7" fill="#111" stroke="#111" stroke-width="0.22">Vehicle</text>
<line x1="33.00" y1="40.60" x2="41.00" y2="40.60" stroke="#111" stroke-width="0.7"/>
<circle cx="37.00" cy="40.60" r="1.45" fill="#fff" stroke="#111" stroke-width="0.85"/>
<text x="43.50" y="43.10" font-size="7.7" fill="#111" stroke="#111" stroke-width="0.22">UNC0642</text>
<line x1="33.00" y1="50.10" x2="41.00" y2="50.10" stroke="#e8202a" stroke-width="0.7"/>
<circle cx="37.00" cy="50.10" r="1.45" fill="#fff" stroke="#e8202a" stroke-width="0.85"/>
<text x="43.50" y="52.60" font-size="7.7" fill="#111" stroke="#111" stroke-width="0.22">GSK126</text>
<line x1="33.00" y1="59.60" x2="41.00" y2="59.60" stroke="#e8202a" stroke-width="0.7"/>
<circle cx="37.00" cy="59.60" r="1.7" fill="#e8202a"/>
<text x="43.50" y="62.10" font-size="7.7" fill="#111" stroke="#111" stroke-width="0.22">UNC0642</text>
<text x="44.10" y="71.10" font-size="7.7" fill="#111" stroke="#111" stroke-width="0.22">+GSK126</text>
</g>
<g id="panelB">
<text x="1.20" y="157.90" font-size="11.5" font-weight="bold" fill="#000" stroke="#000" stroke-width="0.22">B</text>
<text x="121.40" y="165.00" font-size="8.6" text-anchor="middle" fill="#111" stroke="#111" stroke-width="0.22">CAOV3</text>
<line x1="35.40" y1="177.50" x2="35.40" y2="256.00" stroke="#111" stroke-width="0.9"/>
<line x1="35.00" y1="255.60" x2="115.70" y2="255.60" stroke="#111" stroke-width="0.9"/>
<line x1="32.00" y1="255.60" x2="35.40" y2="255.60" stroke="#111" stroke-width="0.9"/>
<text x="31.00" y="258.50" font-size="7.8" text-anchor="end" fill="#111" stroke="#111" stroke-width="0.22">0</text>
<line x1="32.00" y1="240.06" x2="35.40" y2="240.06" stroke="#111" stroke-width="0.9"/>
<text x="31.00" y="242.96" font-size="7.8" text-anchor="end" fill="#111" stroke="#111" stroke-width="0.22">200</text>
<line x1="32.00" y1="224.52" x2="35.40" y2="224.52" stroke="#111" stroke-width="0.9"/>
<text x="31.00" y="227.42" font-size="7.8" text-anchor="end" fill="#111" stroke="#111" stroke-width="0.22">400</text>
<line x1="32.00" y1="208.98" x2="35.40" y2="208.98" stroke="#111" stroke-width="0.9"/>
<text x="31.00" y="211.88" font-size="7.8" text-anchor="end" fill="#111" stroke="#111" stroke-width="0.22">600</text>
<line x1="32.00" y1="193.44" x2="35.40" y2="193.44" stroke="#111" stroke-width="0.9"/>
<text x="31.00" y="196.34" font-size="7.8" text-anchor="end" fill="#111" stroke="#111" stroke-width="0.22">800</text>
<line x1="32.00" y1="177.90" x2="35.40" y2="177.90" stroke="#111" stroke-width="0.9"/>
<text x="31.00" y="180.80" font-size="7.8" text-anchor="end" fill="#111" stroke="#111" stroke-width="0.22">1,000</text>
<line x1="35.80" y1="255.60" x2="35.80" y2="258.20" stroke="#111" stroke-width="0.9"/>
<text x="35.80" y="265.30" font-size="7.8" text-anchor="middle" fill="#111" stroke="#111" stroke-width="0.22">0</text>
<line x1="51.70" y1="255.60" x2="51.70" y2="258.20" stroke="#111" stroke-width="0.9"/>
<text x="51.70" y="265.30" font-size="7.8" text-anchor="middle" fill="#111" stroke="#111" stroke-width="0.22">10</text>
<line x1="67.60" y1="255.60" x2="67.60" y2="258.20" stroke="#111" stroke-width="0.9"/>
<text x="67.60" y="265.30" font-size="7.8" text-anchor="middle" fill="#111" stroke="#111" stroke-width="0.22">20</text>
<line x1="83.50" y1="255.60" x2="83.50" y2="258.20" stroke="#111" stroke-width="0.9"/>
<text x="83.50" y="265.30" font-size="7.8" text-anchor="middle" fill="#111" stroke="#111" stroke-width="0.22">30</text>
<line x1="99.40" y1="255.60" x2="99.40" y2="258.20" stroke="#111" stroke-width="0.9"/>
<text x="99.40" y="265.30" font-size="7.8" text-anchor="middle" fill="#111" stroke="#111" stroke-width="0.22">40</text>
<line x1="115.30" y1="255.60" x2="115.30" y2="258.20" stroke="#111" stroke-width="0.9"/>
<text x="115.30" y="265.30" font-size="7.8" text-anchor="middle" fill="#111" stroke="#111" stroke-width="0.22">50</text>
<text x="8.80" y="218.00" font-size="8.6" text-anchor="middle" transform="rotate(-90 8.80 218.00)" fill="#111" stroke="#111" stroke-width="0.22">Mean tumor volume (mm<tspan font-size="5.5" dy="-2.6">3</tspan><tspan dy="2.6">)</tspan></text>
<text x="78.00" y="274.80" font-size="8.6" text-anchor="middle" fill="#111" stroke="#111" stroke-width="0.22">Days after inoculation</text>
<line x1="77.14" y1="247.33" x2="77.14" y2="251.44" stroke="#e8202a" stroke-width="0.65"/>
<line x1="75.44" y1="247.33" x2="78.84" y2="247.33" stroke="#e8202a" stroke-width="0.65"/>
<line x1="75.44" y1="251.44" x2="78.84" y2="251.44" stroke="#e8202a" stroke-width="0.65"/>
<line x1="80.32" y1="245.27" x2="80.32" y2="250.39" stroke="#e8202a" stroke-width="0.65"/>
<line x1="78.62" y1="245.27" x2="82.02" y2="245.27" stroke="#e8202a" stroke-width="0.65"/>
<line x1="78.62" y1="250.39" x2="82.02" y2="250.39" stroke="#e8202a" stroke-width="0.65"/>
<line x1="85.09" y1="243.20" x2="85.09" y2="249.35" stroke="#e8202a" stroke-width="0.65"/>
<line x1="83.39" y1="243.20" x2="86.79" y2="243.20" stroke="#e8202a" stroke-width="0.65"/>
<line x1="83.39" y1="249.35" x2="86.79" y2="249.35" stroke="#e8202a" stroke-width="0.65"/>
<line x1="88.27" y1="237.00" x2="88.27" y2="246.23" stroke="#e8202a" stroke-width="0.65"/>
<line x1="86.57" y1="237.00" x2="89.97" y2="237.00" stroke="#e8202a" stroke-width="0.65"/>
<line x1="86.57" y1="246.23" x2="89.97" y2="246.23" stroke="#e8202a" stroke-width="0.65"/>
<line x1="91.45" y1="231.31" x2="91.45" y2="243.37" stroke="#e8202a" stroke-width="0.65"/>
<line x1="89.75" y1="231.31" x2="93.15" y2="231.31" stroke="#e8202a" stroke-width="0.65"/>
<line x1="89.75" y1="243.37" x2="93.15" y2="243.37" stroke="#e8202a" stroke-width="0.65"/>
<line x1="97.81" y1="224.60" x2="97.81" y2="239.98" stroke="#e8202a" stroke-width="0.65"/>
<line x1="96.11" y1="224.60" x2="99.51" y2="224.60" stroke="#e8202a" stroke-width="0.65"/>
<line x1="96.11" y1="239.98" x2="99.51" y2="239.98" stroke="#e8202a" stroke-width="0.65"/>
<line x1="102.58" y1="221.50" x2="102.58" y2="238.42" stroke="#e8202a" stroke-width="0.65"/>
<line x1="100.88" y1="221.50" x2="104.28" y2="221.50" stroke="#e8202a" stroke-width="0.65"/>
<line x1="100.88" y1="238.42" x2="104.28" y2="238.42" stroke="#e8202a" stroke-width="0.65"/>
<line x1="107.35" y1="214.26" x2="107.35" y2="234.78" stroke="#e8202a" stroke-width="0.65"/>
<line x1="105.65" y1="214.26" x2="109.05" y2="214.26" stroke="#e8202a" stroke-width="0.65"/>
<line x1="105.65" y1="234.78" x2="109.05" y2="234.78" stroke="#e8202a" stroke-width="0.65"/>
<polyline points="35.80,255.60 54.88,251.72 62.83,251.33 69.19,250.94 77.14,249.38 80.32,247.83 85.09,246.28 88.27,241.61 91.45,237.34 97.81,232.29 102.58,229.96 107.35,224.52" fill="none" stroke="#e8202a" stroke-width="0.8"/>
<circle cx="35.80" cy="255.60" r="1.55" fill="#fff" stroke="#e8202a" stroke-width="0.85"/>
<circle cx="54.88" cy="251.72" r="1.55" fill="#fff" stroke="#e8202a" stroke-width="0.85"/>
<circle cx="62.83" cy="251.33" r="1.55" fill="#fff" stroke="#e8202a" stroke-width="0.85"/>
<circle cx="69.19" cy="250.94" r="1.55" fill="#fff" stroke="#e8202a" stroke-width="0.85"/>
<circle cx="77.14" cy="249.38" r="1.55" fill="#fff" stroke="#e8202a" stroke-width="0.85"/>
<circle cx="80.32" cy="247.83" r="1.55" fill="#fff" stroke="#e8202a" stroke-width="0.85"/>
<circle cx="85.09" cy="246.28" r="1.55" fill="#fff" stroke="#e8202a" stroke-width="0.85"/>
<circle cx="88.27" cy="241.61" r="1.55" fill="#fff" stroke="#e8202a" stroke-width="0.85"/>
<circle cx="91.45" cy="237.34" r="1.55" fill="#fff" stroke="#e8202a" stroke-width="0.85"/>
<circle cx="97.81" cy="232.29" r="1.55" fill="#fff" stroke="#e8202a" stroke-width="0.85"/>
<circle cx="102.58" cy="229.96" r="1.55" fill="#fff" stroke="#e8202a" stroke-width="0.85"/>
<circle cx="107.35" cy="224.52" r="1.55" fill="#fff" stroke="#e8202a" stroke-width="0.85"/>
<line x1="77.14" y1="248.61" x2="77.14" y2="250.94" stroke="#111" stroke-width="0.65"/>
<line x1="75.44" y1="248.61" x2="78.84" y2="248.61" stroke="#111" stroke-width="0.65"/>
<line x1="75.44" y1="250.94" x2="78.84" y2="250.94" stroke="#111" stroke-width="0.65"/>
<line x1="80.32" y1="247.67" x2="80.32" y2="250.32" stroke="#111" stroke-width="0.65"/>
<line x1="78.62" y1="247.67" x2="82.02" y2="247.67" stroke="#111" stroke-width="0.65"/>
<line x1="78.62" y1="250.32" x2="82.02" y2="250.32" stroke="#111" stroke-width="0.65"/>
<line x1="85.09" y1="246.28" x2="85.09" y2="249.38" stroke="#111" stroke-width="0.65"/>
<line x1="83.39" y1="246.28" x2="86.79" y2="246.28" stroke="#111" stroke-width="0.65"/>
<line x1="83.39" y1="249.38" x2="86.79" y2="249.38" stroke="#111" stroke-width="0.65"/>
<line x1="88.27" y1="242.55" x2="88.27" y2="246.90" stroke="#111" stroke-width="0.65"/>
<line x1="86.57" y1="242.55" x2="89.97" y2="242.55" stroke="#111" stroke-width="0.65"/>
<line x1="86.57" y1="246.90" x2="89.97" y2="246.90" stroke="#111" stroke-width="0.65"/>
<line x1="91.45" y1="237.88" x2="91.45" y2="243.79" stroke="#111" stroke-width="0.65"/>
<line x1="89.75" y1="237.88" x2="93.15" y2="237.88" stroke="#111" stroke-width="0.65"/>
<line x1="89.75" y1="243.79" x2="93.15" y2="243.79" stroke="#111" stroke-width="0.65"/>
<line x1="97.81" y1="234.15" x2="97.81" y2="241.30" stroke="#111" stroke-width="0.65"/>
<line x1="96.11" y1="234.15" x2="99.51" y2="234.15" stroke="#111" stroke-width="0.65"/>
<line x1="96.11" y1="241.30" x2="99.51" y2="241.30" stroke="#111" stroke-width="0.65"/>
<line x1="102.58" y1="230.89" x2="102.58" y2="239.13" stroke="#111" stroke-width="0.65"/>
<line x1="100.88" y1="230.89" x2="104.28" y2="230.89" stroke="#111" stroke-width="0.65"/>
<line x1="100.88" y1="239.13" x2="104.28" y2="239.13" stroke="#111" stroke-width="0.65"/>
<line x1="107.35" y1="226.70" x2="107.35" y2="236.33" stroke="#111" stroke-width="0.65"/>
<line x1="105.65" y1="226.70" x2="109.05" y2="226.70" stroke="#111" stroke-width="0.65"/>
<line x1="105.65" y1="236.33" x2="109.05" y2="236.33" stroke="#111" stroke-width="0.65"/>
<polyline points="35.80,255.60 54.88,251.72 62.83,251.33 69.19,250.94 77.14,249.77 80.32,249.00 85.09,247.83 88.27,244.72 91.45,240.84 97.81,237.73 102.58,235.01 107.35,231.51" fill="none" stroke="#111" stroke-width="0.8"/>
<circle cx="35.80" cy="255.60" r="1.55" fill="#fff" stroke="#111" stroke-width="0.85"/>
<circle cx="54.88" cy="251.72" r="1.55" fill="#fff" stroke="#111" stroke-width="0.85"/>
<circle cx="62.83" cy="251.33" r="1.55" fill="#fff" stroke="#111" stroke-width="0.85"/>
<circle cx="69.19" cy="250.94" r="1.55" fill="#fff" stroke="#111" stroke-width="0.85"/>
<circle cx="77.14" cy="249.77" r="1.55" fill="#fff" stroke="#111" stroke-width="0.85"/>
<circle cx="80.32" cy="249.00" r="1.55" fill="#fff" stroke="#111" stroke-width="0.85"/>
<circle cx="85.09" cy="247.83" r="1.55" fill="#fff" stroke="#111" stroke-width="0.85"/>
<circle cx="88.27" cy="244.72" r="1.55" fill="#fff" stroke="#111" stroke-width="0.85"/>
<circle cx="91.45" cy="240.84" r="1.55" fill="#fff" stroke="#111" stroke-width="0.85"/>
<circle cx="97.81" cy="237.73" r="1.55" fill="#fff" stroke="#111" stroke-width="0.85"/>
<circle cx="102.58" cy="235.01" r="1.55" fill="#fff" stroke="#111" stroke-width="0.85"/>
<circle cx="107.35" cy="231.51" r="1.55" fill="#fff" stroke="#111" stroke-width="0.85"/>
<line x1="77.14" y1="249.54" x2="77.14" y2="252.34" stroke="#e8202a" stroke-width="0.65"/>
<line x1="75.44" y1="249.54" x2="78.84" y2="249.54" stroke="#e8202a" stroke-width="0.65"/>
<line x1="75.44" y1="252.34" x2="78.84" y2="252.34" stroke="#e8202a" stroke-width="0.65"/>
<line x1="80.32" y1="250.04" x2="80.32" y2="252.61" stroke="#e8202a" stroke-width="0.65"/>
<line x1="78.62" y1="250.04" x2="82.02" y2="250.04" stroke="#e8202a" stroke-width="0.65"/>
<line x1="78.62" y1="252.61" x2="82.02" y2="252.61" stroke="#e8202a" stroke-width="0.65"/>
<line x1="85.09" y1="250.04" x2="85.09" y2="252.61" stroke="#e8202a" stroke-width="0.65"/>
<line x1="83.39" y1="250.04" x2="86.79" y2="250.04" stroke="#e8202a" stroke-width="0.65"/>
<line x1="83.39" y1="252.61" x2="86.79" y2="252.61" stroke="#e8202a" stroke-width="0.65"/>
<line x1="88.27" y1="249.03" x2="88.27" y2="252.06" stroke="#e8202a" stroke-width="0.65"/>
<line x1="86.57" y1="249.03" x2="89.97" y2="249.03" stroke="#e8202a" stroke-width="0.65"/>
<line x1="86.57" y1="252.06" x2="89.97" y2="252.06" stroke="#e8202a" stroke-width="0.65"/>
<line x1="91.45" y1="249.03" x2="91.45" y2="252.06" stroke="#e8202a" stroke-width="0.65"/>
<line x1="89.75" y1="249.03" x2="93.15" y2="249.03" stroke="#e8202a" stroke-width="0.65"/>
<line x1="89.75" y1="252.06" x2="93.15" y2="252.06" stroke="#e8202a" stroke-width="0.65"/>
<line x1="97.81" y1="247.01" x2="97.81" y2="250.98" stroke="#e8202a" stroke-width="0.65"/>
<line x1="96.11" y1="247.01" x2="99.51" y2="247.01" stroke="#e8202a" stroke-width="0.65"/>
<line x1="96.11" y1="250.98" x2="99.51" y2="250.98" stroke="#e8202a" stroke-width="0.65"/>
<line x1="102.58" y1="245.50" x2="102.58" y2="250.16" stroke="#e8202a" stroke-width="0.65"/>
<line x1="100.88" y1="245.50" x2="104.28" y2="245.50" stroke="#e8202a" stroke-width="0.65"/>
<line x1="100.88" y1="250.16" x2="104.28" y2="250.16" stroke="#e8202a" stroke-width="0.65"/>
<line x1="107.35" y1="242.47" x2="107.35" y2="248.53" stroke="#e8202a" stroke-width="0.65"/>
<line x1="105.65" y1="242.47" x2="109.05" y2="242.47" stroke="#e8202a" stroke-width="0.65"/>
<line x1="105.65" y1="248.53" x2="109.05" y2="248.53" stroke="#e8202a" stroke-width="0.65"/>
<polyline points="35.80,255.60 54.88,251.72 62.83,251.33 69.19,250.94 77.14,250.94 80.32,251.33 85.09,251.33 88.27,250.55 91.45,250.55 97.81,249.00 102.58,247.83 107.35,245.50" fill="none" stroke="#e8202a" stroke-width="0.8"/>
<circle cx="35.80" cy="255.60" r="2.0" fill="#e8202a"/>
<circle cx="54.88" cy="251.72" r="2.0" fill="#e8202a"/>
<circle cx="62.83" cy="251.33" r="2.0" fill="#e8202a"/>
<circle cx="69.19" cy="250.94" r="2.0" fill="#e8202a"/>
<circle cx="77.14" cy="250.94" r="2.0" fill="#e8202a"/>
<circle cx="80.32" cy="251.33" r="2.0" fill="#e8202a"/>
<circle cx="85.09" cy="251.33" r="2.0" fill="#e8202a"/>
<circle cx="88.27" cy="250.55" r="2.0" fill="#e8202a"/>
<circle cx="91.45" cy="250.55" r="2.0" fill="#e8202a"/>
<circle cx="97.81" cy="249.00" r="2.0" fill="#e8202a"/>
<circle cx="102.58" cy="247.83" r="2.0" fill="#e8202a"/>
<circle cx="107.35" cy="245.50" r="2.0" fill="#e8202a"/>
<line x1="77.14" y1="238.92" x2="77.14" y2="242.76" stroke="#111" stroke-width="0.65"/>
<line x1="75.44" y1="238.92" x2="78.84" y2="238.92" stroke="#111" stroke-width="0.65"/>
<line x1="75.44" y1="242.76" x2="78.84" y2="242.76" stroke="#111" stroke-width="0.65"/>
<line x1="80.32" y1="237.60" x2="80.32" y2="241.74" stroke="#111" stroke-width="0.65"/>
<line x1="78.62" y1="237.60" x2="82.02" y2="237.60" stroke="#111" stroke-width="0.65"/>
<line x1="78.62" y1="241.74" x2="82.02" y2="241.74" stroke="#111" stroke-width="0.65"/>
<line x1="85.09" y1="230.84" x2="85.09" y2="236.54" stroke="#111" stroke-width="0.65"/>
<line x1="83.39" y1="230.84" x2="86.79" y2="230.84" stroke="#111" stroke-width="0.65"/>
<line x1="83.39" y1="236.54" x2="86.79" y2="236.54" stroke="#111" stroke-width="0.65"/>
<line x1="88.27" y1="223.99" x2="88.27" y2="231.26" stroke="#111" stroke-width="0.65"/>
<line x1="86.57" y1="223.99" x2="89.97" y2="223.99" stroke="#111" stroke-width="0.65"/>
<line x1="86.57" y1="231.26" x2="89.97" y2="231.26" stroke="#111" stroke-width="0.65"/>
<line x1="91.45" y1="219.60" x2="91.45" y2="227.88" stroke="#111" stroke-width="0.65"/>
<line x1="89.75" y1="219.60" x2="93.15" y2="219.60" stroke="#111" stroke-width="0.65"/>
<line x1="89.75" y1="227.88" x2="93.15" y2="227.88" stroke="#111" stroke-width="0.65"/>
<line x1="97.81" y1="209.24" x2="97.81" y2="219.91" stroke="#111" stroke-width="0.65"/>
<line x1="96.11" y1="209.24" x2="99.51" y2="209.24" stroke="#111" stroke-width="0.65"/>
<line x1="96.11" y1="219.91" x2="99.51" y2="219.91" stroke="#111" stroke-width="0.65"/>
<line x1="102.58" y1="206.08" x2="102.58" y2="217.47" stroke="#111" stroke-width="0.65"/>
<line x1="100.88" y1="206.08" x2="104.28" y2="206.08" stroke="#111" stroke-width="0.65"/>
<line x1="100.88" y1="217.47" x2="104.28" y2="217.47" stroke="#111" stroke-width="0.65"/>
<line x1="107.35" y1="187.47" x2="107.35" y2="203.14" stroke="#111" stroke-width="0.65"/>
<line x1="105.65" y1="187.47" x2="109.05" y2="187.47" stroke="#111" stroke-width="0.65"/>
<line x1="105.65" y1="203.14" x2="109.05" y2="203.14" stroke="#111" stroke-width="0.65"/>
<polyline points="35.80,255.60 54.88,251.72 62.83,251.33 69.19,250.94 77.14,240.84 80.32,239.67 85.09,233.69 88.27,227.63 91.45,223.74 97.81,214.57 102.58,211.78 107.35,195.30" fill="none" stroke="#111" stroke-width="0.8"/>
<circle cx="35.80" cy="255.60" r="2.0" fill="#111"/>
<circle cx="54.88" cy="251.72" r="2.0" fill="#111"/>
<circle cx="62.83" cy="251.33" r="2.0" fill="#111"/>
<circle cx="69.19" cy="250.94" r="2.0" fill="#111"/>
<circle cx="77.14" cy="240.84" r="2.0" fill="#111"/>
<circle cx="80.32" cy="239.67" r="2.0" fill="#111"/>
<circle cx="85.09" cy="233.69" r="2.0" fill="#111"/>
<circle cx="88.27" cy="227.63" r="2.0" fill="#111"/>
<circle cx="91.45" cy="223.74" r="2.0" fill="#111"/>
<circle cx="97.81" cy="214.57" r="2.0" fill="#111"/>
<circle cx="102.58" cy="211.78" r="2.0" fill="#111"/>
<circle cx="107.35" cy="195.30" r="2.0" fill="#111"/>
<line x1="38.60" y1="179.20" x2="46.60" y2="179.20" stroke="#111" stroke-width="0.7"/>
<circle cx="42.60" cy="179.20" r="1.7" fill="#111"/>
<text x="49.10" y="181.70" font-size="7.7" fill="#111" stroke="#111" stroke-width="0.22">Vehicle</text>
<line x1="38.60" y1="188.40" x2="46.60" y2="188.40" stroke="#111" stroke-width="0.7"/>
<circle cx="42.60" cy="188.40" r="1.45" fill="#fff" stroke="#111" stroke-width="0.85"/>
<text x="49.10" y="190.90" font-size="7.7" fill="#111" stroke="#111" stroke-width="0.22">UNC0642</text>
<line x1="38.60" y1="197.60" x2="46.60" y2="197.60" stroke="#e8202a" stroke-width="0.7"/>
<circle cx="42.60" cy="197.60" r="1.45" fill="#fff" stroke="#e8202a" stroke-width="0.85"/>
<text x="49.10" y="200.10" font-size="7.7" fill="#111" stroke="#111" stroke-width="0.22">GSK126</text>
<line x1="38.60" y1="206.90" x2="46.60" y2="206.90" stroke="#e8202a" stroke-width="0.7"/>
<circle cx="42.60" cy="206.90" r="1.7" fill="#e8202a"/>
<text x="49.10" y="209.40" font-size="7.7" fill="#111" stroke="#111" stroke-width="0.22">UNC0642</text>
<text x="49.70" y="218.30" font-size="7.7" fill="#111" stroke="#111" stroke-width="0.22">+GSK126</text>
</g>
<g id="panelC">
<text x="0.80" y="304.70" font-size="11.5" font-weight="bold" fill="#000" stroke="#000" stroke-width="0.22">C</text>
<text x="121.50" y="312.30" font-size="8.6" text-anchor="middle" fill="#111" stroke="#111" stroke-width="0.22">D14</text>
<line x1="35.40" y1="324.60" x2="35.40" y2="403.40" stroke="#111" stroke-width="0.9"/>
<line x1="35.00" y1="403.00" x2="115.80" y2="403.00" stroke="#111" stroke-width="0.9"/>
<line x1="32.00" y1="403.00" x2="35.40" y2="403.00" stroke="#111" stroke-width="0.9"/>
<text x="31.00" y="405.90" font-size="7.8" text-anchor="end" fill="#111" stroke="#111" stroke-width="0.22">0</text>
<line x1="32.00" y1="387.40" x2="35.40" y2="387.40" stroke="#111" stroke-width="0.9"/>
<text x="31.00" y="390.30" font-size="7.8" text-anchor="end" fill="#111" stroke="#111" stroke-width="0.22">200</text>
<line x1="32.00" y1="371.80" x2="35.40" y2="371.80" stroke="#111" stroke-width="0.9"/>
<text x="31.00" y="374.70" font-size="7.8" text-anchor="end" fill="#111" stroke="#111" stroke-width="0.22">400</text>
<line x1="32.00" y1="356.20" x2="35.40" y2="356.20" stroke="#111" stroke-width="0.9"/>
<text x="31.00" y="359.10" font-size="7.8" text-anchor="end" fill="#111" stroke="#111" stroke-width="0.22">600</text>
<line x1="32.00" y1="340.60" x2="35.40" y2="340.60" stroke="#111" stroke-width="0.9"/>
<text x="31.00" y="343.50" font-size="7.8" text-anchor="end" fill="#111" stroke="#111" stroke-width="0.22">800</text>
<line x1="32.00" y1="325.00" x2="35.40" y2="325.00" stroke="#111" stroke-width="0.9"/>
<text x="31.00" y="327.90" font-size="7.8" text-anchor="end" fill="#111" stroke="#111" stroke-width="0.22">1,000</text>
<line x1="35.80" y1="403.00" x2="35.80" y2="405.60" stroke="#111" stroke-width="0.9"/>
<text x="35.80" y="412.30" font-size="7.8" text-anchor="middle" fill="#111" stroke="#111" stroke-width="0.22">0</text>
<line x1="55.70" y1="403.00" x2="55.70" y2="405.60" stroke="#111" stroke-width="0.9"/>
<text x="55.70" y="412.30" font-size="7.8" text-anchor="middle" fill="#111" stroke="#111" stroke-width="0.22">10</text>
<line x1="75.60" y1="403.00" x2="75.60" y2="405.60" stroke="#111" stroke-width="0.9"/>
<text x="75.60" y="412.30" font-size="7.8" text-anchor="middle" fill="#111" stroke="#111" stroke-width="0.22">20</text>
<line x1="95.50" y1="403.00" x2="95.50" y2="405.60" stroke="#111" stroke-width="0.9"/>
<text x="95.50" y="412.30" font-size="7.8" text-anchor="middle" fill="#111" stroke="#111" stroke-width="0.22">30</text>
<line x1="115.40" y1="403.00" x2="115.40" y2="405.60" stroke="#111" stroke-width="0.9"/>
<text x="115.40" y="412.30" font-size="7.8" text-anchor="middle" fill="#111" stroke="#111" stroke-width="0.22">40</text>
<text x="8.80" y="365.00" font-size="8.6" text-anchor="middle" transform="rotate(-90 8.80 365.00)" fill="#111" stroke="#111" stroke-width="0.22">Mean tumor volume (mm<tspan font-size="5.5" dy="-2.6">3</tspan><tspan dy="2.6">)</tspan></text>
<text x="78.00" y="421.60" font-size="8.6" text-anchor="middle" fill="#111" stroke="#111" stroke-width="0.22">Days after inoculation</text>
<line x1="71.62" y1="393.65" x2="71.62" y2="395.19" stroke="#e8202a" stroke-width="0.65"/>
<line x1="69.92" y1="393.65" x2="73.32" y2="393.65" stroke="#e8202a" stroke-width="0.65"/>
<line x1="69.92" y1="395.19" x2="73.32" y2="395.19" stroke="#e8202a" stroke-width="0.65"/>
<line x1="77.59" y1="387.70" x2="77.59" y2="390.22" stroke="#e8202a" stroke-width="0.65"/>
<line x1="75.89" y1="387.70" x2="79.29" y2="387.70" stroke="#e8202a" stroke-width="0.65"/>
<line x1="75.89" y1="390.22" x2="79.29" y2="390.22" stroke="#e8202a" stroke-width="0.65"/>
<line x1="81.57" y1="383.45" x2="81.57" y2="386.67" stroke="#e8202a" stroke-width="0.65"/>
<line x1="79.87" y1="383.45" x2="83.27" y2="383.45" stroke="#e8202a" stroke-width="0.65"/>
<line x1="79.87" y1="386.67" x2="83.27" y2="386.67" stroke="#e8202a" stroke-width="0.65"/>
<line x1="85.55" y1="378.34" x2="85.55" y2="382.42" stroke="#e8202a" stroke-width="0.65"/>
<line x1="83.85" y1="378.34" x2="87.25" y2="378.34" stroke="#e8202a" stroke-width="0.65"/>
<line x1="83.85" y1="382.42" x2="87.25" y2="382.42" stroke="#e8202a" stroke-width="0.65"/>
<line x1="91.52" y1="371.97" x2="91.52" y2="377.09" stroke="#e8202a" stroke-width="0.65"/>
<line x1="89.82" y1="371.97" x2="93.22" y2="371.97" stroke="#e8202a" stroke-width="0.65"/>
<line x1="89.82" y1="377.09" x2="93.22" y2="377.09" stroke="#e8202a" stroke-width="0.65"/>
<line x1="95.50" y1="366.44" x2="95.50" y2="372.48" stroke="#e8202a" stroke-width="0.65"/>
<line x1="93.80" y1="366.44" x2="97.20" y2="366.44" stroke="#e8202a" stroke-width="0.65"/>
<line x1="93.80" y1="372.48" x2="97.20" y2="372.48" stroke="#e8202a" stroke-width="0.65"/>
<line x1="99.48" y1="362.62" x2="99.48" y2="369.28" stroke="#e8202a" stroke-width="0.65"/>
<line x1="97.78" y1="362.62" x2="101.18" y2="362.62" stroke="#e8202a" stroke-width="0.65"/>
<line x1="97.78" y1="369.28" x2="101.18" y2="369.28" stroke="#e8202a" stroke-width="0.65"/>
<line x1="105.45" y1="359.21" x2="105.45" y2="366.45" stroke="#e8202a" stroke-width="0.65"/>
<line x1="103.75" y1="359.21" x2="107.15" y2="359.21" stroke="#e8202a" stroke-width="0.65"/>
<line x1="103.75" y1="366.45" x2="107.15" y2="366.45" stroke="#e8202a" stroke-width="0.65"/>
<line x1="109.43" y1="355.81" x2="109.43" y2="363.61" stroke="#e8202a" stroke-width="0.65"/>
<line x1="107.73" y1="355.81" x2="111.13" y2="355.81" stroke="#e8202a" stroke-width="0.65"/>
<line x1="107.73" y1="363.61" x2="111.13" y2="363.61" stroke="#e8202a" stroke-width="0.65"/>
<polyline points="35.80,403.00 71.62,394.42 77.59,388.96 81.57,385.06 85.55,380.38 91.52,374.53 95.50,369.46 99.48,365.95 105.45,362.83 109.43,359.71" fill="none" stroke="#e8202a" stroke-width="0.8"/>
<circle cx="35.80" cy="403.00" r="1.55" fill="#fff" stroke="#e8202a" stroke-width="0.85"/>
<circle cx="71.62" cy="394.42" r="1.55" fill="#fff" stroke="#e8202a" stroke-width="0.85"/>
<circle cx="77.59" cy="388.96" r="1.55" fill="#fff" stroke="#e8202a" stroke-width="0.85"/>
<circle cx="81.57" cy="385.06" r="1.55" fill="#fff" stroke="#e8202a" stroke-width="0.85"/>
<circle cx="85.55" cy="380.38" r="1.55" fill="#fff" stroke="#e8202a" stroke-width="0.85"/>
<circle cx="91.52" cy="374.53" r="1.55" fill="#fff" stroke="#e8202a" stroke-width="0.85"/>
<circle cx="95.50" cy="369.46" r="1.55" fill="#fff" stroke="#e8202a" stroke-width="0.85"/>
<circle cx="99.48" cy="365.95" r="1.55" fill="#fff" stroke="#e8202a" stroke-width="0.85"/>
<circle cx="105.45" cy="362.83" r="1.55" fill="#fff" stroke="#e8202a" stroke-width="0.85"/>
<circle cx="109.43" cy="359.71" r="1.55" fill="#fff" stroke="#e8202a" stroke-width="0.85"/>
<line x1="71.62" y1="393.65" x2="71.62" y2="395.19" stroke="#111" stroke-width="0.65"/>
<line x1="69.92" y1="393.65" x2="73.32" y2="393.65" stroke="#111" stroke-width="0.65"/>
<line x1="69.92" y1="395.19" x2="73.32" y2="395.19" stroke="#111" stroke-width="0.65"/>
<line x1="77.59" y1="388.12" x2="77.59" y2="390.58" stroke="#111" stroke-width="0.65"/>
<line x1="75.89" y1="388.12" x2="79.29" y2="388.12" stroke="#111" stroke-width="0.65"/>
<line x1="75.89" y1="390.58" x2="79.29" y2="390.58" stroke="#111" stroke-width="0.65"/>
<line x1="81.57" y1="383.87" x2="81.57" y2="387.03" stroke="#111" stroke-width="0.65"/>
<line x1="79.87" y1="383.87" x2="83.27" y2="383.87" stroke="#111" stroke-width="0.65"/>
<line x1="79.87" y1="387.03" x2="83.27" y2="387.03" stroke="#111" stroke-width="0.65"/>
<line x1="85.55" y1="379.62" x2="85.55" y2="383.48" stroke="#111" stroke-width="0.65"/>
<line x1="83.85" y1="379.62" x2="87.25" y2="379.62" stroke="#111" stroke-width="0.65"/>
<line x1="83.85" y1="383.48" x2="87.25" y2="383.48" stroke="#111" stroke-width="0.65"/>
<line x1="91.52" y1="374.09" x2="91.52" y2="378.87" stroke="#111" stroke-width="0.65"/>
<line x1="89.82" y1="374.09" x2="93.22" y2="374.09" stroke="#111" stroke-width="0.65"/>
<line x1="89.82" y1="378.87" x2="93.22" y2="378.87" stroke="#111" stroke-width="0.65"/>
<line x1="95.50" y1="369.84" x2="95.50" y2="375.32" stroke="#111" stroke-width="0.65"/>
<line x1="93.80" y1="369.84" x2="97.20" y2="369.84" stroke="#111" stroke-width="0.65"/>
<line x1="93.80" y1="375.32" x2="97.20" y2="375.32" stroke="#111" stroke-width="0.65"/>
<line x1="99.48" y1="367.29" x2="99.48" y2="373.19" stroke="#111" stroke-width="0.65"/>
<line x1="97.78" y1="367.29" x2="101.18" y2="367.29" stroke="#111" stroke-width="0.65"/>
<line x1="97.78" y1="373.19" x2="101.18" y2="373.19" stroke="#111" stroke-width="0.65"/>
<line x1="105.45" y1="365.59" x2="105.45" y2="371.77" stroke="#111" stroke-width="0.65"/>
<line x1="103.75" y1="365.59" x2="107.15" y2="365.59" stroke="#111" stroke-width="0.65"/>
<line x1="103.75" y1="371.77" x2="107.15" y2="371.77" stroke="#111" stroke-width="0.65"/>
<line x1="109.43" y1="361.77" x2="109.43" y2="368.57" stroke="#111" stroke-width="0.65"/>
<line x1="107.73" y1="361.77" x2="111.13" y2="361.77" stroke="#111" stroke-width="0.65"/>
<line x1="107.73" y1="368.57" x2="111.13" y2="368.57" stroke="#111" stroke-width="0.65"/>
<polyline points="35.80,403.00 71.62,394.42 77.59,389.35 81.57,385.45 85.55,381.55 91.52,376.48 95.50,372.58 99.48,370.24 105.45,368.68 109.43,365.17" fill="none" stroke="#111" stroke-width="0.8"/>
<circle cx="35.80" cy="403.00" r="1.55" fill="#fff" stroke="#111" stroke-width="0.85"/>
<circle cx="71.62" cy="394.42" r="1.55" fill="#fff" stroke="#111" stroke-width="0.85"/>
<circle cx="77.59" cy="389.35" r="1.55" fill="#fff" stroke="#111" stroke-width="0.85"/>
<circle cx="81.57" cy="385.45" r="1.55" fill="#fff" stroke="#111" stroke-width="0.85"/>
<circle cx="85.55" cy="381.55" r="1.55" fill="#fff" stroke="#111" stroke-width="0.85"/>
<circle cx="91.52" cy="376.48" r="1.55" fill="#fff" stroke="#111" stroke-width="0.85"/>
<circle cx="95.50" cy="372.58" r="1.55" fill="#fff" stroke="#111" stroke-width="0.85"/>
<circle cx="99.48" cy="370.24" r="1.55" fill="#fff" stroke="#111" stroke-width="0.85"/>
<circle cx="105.45" cy="368.68" r="1.55" fill="#fff" stroke="#111" stroke-width="0.85"/>
<circle cx="109.43" cy="365.17" r="1.55" fill="#fff" stroke="#111" stroke-width="0.85"/>
<line x1="71.62" y1="394.32" x2="71.62" y2="395.30" stroke="#e8202a" stroke-width="0.65"/>
<line x1="69.92" y1="394.32" x2="73.32" y2="394.32" stroke="#e8202a" stroke-width="0.65"/>
<line x1="69.92" y1="395.30" x2="73.32" y2="395.30" stroke="#e8202a" stroke-width="0.65"/>
<line x1="77.59" y1="389.77" x2="77.59" y2="391.27" stroke="#e8202a" stroke-width="0.65"/>
<line x1="75.89" y1="389.77" x2="79.29" y2="389.77" stroke="#e8202a" stroke-width="0.65"/>
<line x1="75.89" y1="391.27" x2="79.29" y2="391.27" stroke="#e8202a" stroke-width="0.65"/>
<line x1="81.57" y1="388.53" x2="81.57" y2="390.17" stroke="#e8202a" stroke-width="0.65"/>
<line x1="79.87" y1="388.53" x2="83.27" y2="388.53" stroke="#e8202a" stroke-width="0.65"/>
<line x1="79.87" y1="390.17" x2="83.27" y2="390.17" stroke="#e8202a" stroke-width="0.65"/>
<line x1="85.55" y1="387.29" x2="85.55" y2="389.07" stroke="#e8202a" stroke-width="0.65"/>
<line x1="83.85" y1="387.29" x2="87.25" y2="387.29" stroke="#e8202a" stroke-width="0.65"/>
<line x1="83.85" y1="389.07" x2="87.25" y2="389.07" stroke="#e8202a" stroke-width="0.65"/>
<line x1="91.52" y1="383.16" x2="91.52" y2="385.40" stroke="#e8202a" stroke-width="0.65"/>
<line x1="89.82" y1="383.16" x2="93.22" y2="383.16" stroke="#e8202a" stroke-width="0.65"/>
<line x1="89.82" y1="385.40" x2="93.22" y2="385.40" stroke="#e8202a" stroke-width="0.65"/>
<line x1="95.50" y1="379.85" x2="95.50" y2="382.47" stroke="#e8202a" stroke-width="0.65"/>
<line x1="93.80" y1="379.85" x2="97.20" y2="379.85" stroke="#e8202a" stroke-width="0.65"/>
<line x1="93.80" y1="382.47" x2="97.20" y2="382.47" stroke="#e8202a" stroke-width="0.65"/>
<line x1="99.48" y1="378.20" x2="99.48" y2="381.00" stroke="#e8202a" stroke-width="0.65"/>
<line x1="97.78" y1="378.20" x2="101.18" y2="378.20" stroke="#e8202a" stroke-width="0.65"/>
<line x1="97.78" y1="381.00" x2="101.18" y2="381.00" stroke="#e8202a" stroke-width="0.65"/>
<line x1="105.45" y1="376.96" x2="105.45" y2="379.90" stroke="#e8202a" stroke-width="0.65"/>
<line x1="103.75" y1="376.96" x2="107.15" y2="376.96" stroke="#e8202a" stroke-width="0.65"/>
<line x1="103.75" y1="379.90" x2="107.15" y2="379.90" stroke="#e8202a" stroke-width="0.65"/>
<line x1="109.43" y1="379.85" x2="109.43" y2="382.47" stroke="#e8202a" stroke-width="0.65"/>
<line x1="107.73" y1="379.85" x2="111.13" y2="379.85" stroke="#e8202a" stroke-width="0.65"/>
<line x1="107.73" y1="382.47" x2="111.13" y2="382.47" stroke="#e8202a" stroke-width="0.65"/>
<polyline points="35.80,403.00 71.62,394.81 77.59,390.52 81.57,389.35 85.55,388.18 91.52,384.28 95.50,381.16 99.48,379.60 105.45,378.43 109.43,381.16" fill="none" stroke="#e8202a" stroke-width="0.8"/>
<circle cx="35.80" cy="403.00" r="2.0" fill="#e8202a"/>
<circle cx="71.62" cy="394.81" r="2.0" fill="#e8202a"/>
<circle cx="77.59" cy="390.52" r="2.0" fill="#e8202a"/>
<circle cx="81.57" cy="389.35" r="2.0" fill="#e8202a"/>
<circle cx="85.55" cy="388.18" r="2.0" fill="#e8202a"/>
<circle cx="91.52" cy="384.28" r="2.0" fill="#e8202a"/>
<circle cx="95.50" cy="381.16" r="2.0" fill="#e8202a"/>
<circle cx="99.48" cy="379.60" r="2.0" fill="#e8202a"/>
<circle cx="105.45" cy="378.43" r="2.0" fill="#e8202a"/>
<circle cx="109.43" cy="381.16" r="2.0" fill="#e8202a"/>
<line x1="71.62" y1="393.99" x2="71.62" y2="394.85" stroke="#111" stroke-width="0.65"/>
<line x1="69.92" y1="393.99" x2="73.32" y2="393.99" stroke="#111" stroke-width="0.65"/>
<line x1="69.92" y1="394.85" x2="73.32" y2="394.85" stroke="#111" stroke-width="0.65"/>
<line x1="77.59" y1="387.44" x2="77.59" y2="388.92" stroke="#111" stroke-width="0.65"/>
<line x1="75.89" y1="387.44" x2="79.29" y2="387.44" stroke="#111" stroke-width="0.65"/>
<line x1="75.89" y1="388.92" x2="79.29" y2="388.92" stroke="#111" stroke-width="0.65"/>
<line x1="81.57" y1="382.93" x2="81.57" y2="384.85" stroke="#111" stroke-width="0.65"/>
<line x1="79.87" y1="382.93" x2="83.27" y2="382.93" stroke="#111" stroke-width="0.65"/>
<line x1="79.87" y1="384.85" x2="83.27" y2="384.85" stroke="#111" stroke-width="0.65"/>
<line x1="85.55" y1="378.43" x2="85.55" y2="380.77" stroke="#111" stroke-width="0.65"/>
<line x1="83.85" y1="378.43" x2="87.25" y2="378.43" stroke="#111" stroke-width="0.65"/>
<line x1="83.85" y1="380.77" x2="87.25" y2="380.77" stroke="#111" stroke-width="0.65"/>
<line x1="91.52" y1="370.24" x2="91.52" y2="373.36" stroke="#111" stroke-width="0.65"/>
<line x1="89.82" y1="370.24" x2="93.22" y2="370.24" stroke="#111" stroke-width="0.65"/>
<line x1="89.82" y1="373.36" x2="93.22" y2="373.36" stroke="#111" stroke-width="0.65"/>
<line x1="95.50" y1="363.69" x2="95.50" y2="367.43" stroke="#111" stroke-width="0.65"/>
<line x1="93.80" y1="363.69" x2="97.20" y2="363.69" stroke="#111" stroke-width="0.65"/>
<line x1="93.80" y1="367.43" x2="97.20" y2="367.43" stroke="#111" stroke-width="0.65"/>
<line x1="99.48" y1="353.45" x2="99.48" y2="358.17" stroke="#111" stroke-width="0.65"/>
<line x1="97.78" y1="353.45" x2="101.18" y2="353.45" stroke="#111" stroke-width="0.65"/>
<line x1="97.78" y1="358.17" x2="101.18" y2="358.17" stroke="#111" stroke-width="0.65"/>
<line x1="105.45" y1="346.90" x2="105.45" y2="352.24" stroke="#111" stroke-width="0.65"/>
<line x1="103.75" y1="346.90" x2="107.15" y2="346.90" stroke="#111" stroke-width="0.65"/>
<line x1="103.75" y1="352.24" x2="107.15" y2="352.24" stroke="#111" stroke-width="0.65"/>
<line x1="109.43" y1="336.66" x2="109.43" y2="342.98" stroke="#111" stroke-width="0.65"/>
<line x1="107.73" y1="336.66" x2="111.13" y2="336.66" stroke="#111" stroke-width="0.65"/>
<line x1="107.73" y1="342.98" x2="111.13" y2="342.98" stroke="#111" stroke-width="0.65"/>
<polyline points="35.80,403.00 71.62,394.42 77.59,388.18 81.57,383.89 85.55,379.60 91.52,371.80 95.50,365.56 99.48,355.81 105.45,349.57 109.43,339.82" fill="none" stroke="#111" stroke-width="0.8"/>
<circle cx="35.80" cy="403.00" r="2.0" fill="#111"/>
<circle cx="71.62" cy="394.42" r="2.0" fill="#111"/>
<circle cx="77.59" cy="388.18" r="2.0" fill="#111"/>
<circle cx="81.57" cy="383.89" r="2.0" fill="#111"/>
<circle cx="85.55" cy="379.60" r="2.0" fill="#111"/>
<circle cx="91.52" cy="371.80" r="2.0" fill="#111"/>
<circle cx="95.50" cy="365.56" r="2.0" fill="#111"/>
<circle cx="99.48" cy="355.81" r="2.0" fill="#111"/>
<circle cx="105.45" cy="349.57" r="2.0" fill="#111"/>
<circle cx="109.43" cy="339.82" r="2.0" fill="#111"/>
<line x1="38.60" y1="327.00" x2="46.60" y2="327.00" stroke="#111" stroke-width="0.7"/>
<circle cx="42.60" cy="327.00" r="1.7" fill="#111"/>
<text x="49.10" y="329.50" font-size="7.7" fill="#111" stroke="#111" stroke-width="0.22">Vehicle</text>
<line x1="38.60" y1="336.20" x2="46.60" y2="336.20" stroke="#111" stroke-width="0.7"/>
<circle cx="42.60" cy="336.20" r="1.45" fill="#fff" stroke="#111" stroke-width="0.85"/>
<text x="49.10" y="338.70" font-size="7.7" fill="#111" stroke="#111" stroke-width="0.22">UNC0642</text>
<line x1="38.60" y1="345.40" x2="46.60" y2="345.40" stroke="#e8202a" stroke-width="0.7"/>
<circle cx="42.60" cy="345.40" r="1.45" fill="#fff" stroke="#e8202a" stroke-width="0.85"/>
<text x="49.10" y="347.90" font-size="7.7" fill="#111" stroke="#111" stroke-width="0.22">GSK126</text>
<line x1="38.60" y1="354.60" x2="46.60" y2="354.60" stroke="#e8202a" stroke-width="0.7"/>
<circle cx="42.60" cy="354.60" r="1.7" fill="#e8202a"/>
<text x="49.10" y="357.10" font-size="7.7" fill="#111" stroke="#111" stroke-width="0.22">UNC0642</text>
<text x="49.70" y="365.90" font-size="7.7" fill="#111" stroke="#111" stroke-width="0.22">+GSK126</text>
</g>
<g id="scatA">
<line x1="158.00" y1="31.10" x2="158.00" y2="109.60" stroke="#111" stroke-width="0.9"/>
<line x1="157.60" y1="109.20" x2="206.30" y2="109.20" stroke="#111" stroke-width="0.9"/>
<line x1="155.00" y1="109.20" x2="158.00" y2="109.20" stroke="#111" stroke-width="0.9"/>
<text x="154.20" y="112.10" font-size="7.8" text-anchor="end" fill="#111" stroke="#111" stroke-width="0.22">0</text>
<line x1="155.00" y1="93.66" x2="158.00" y2="93.66" stroke="#111" stroke-width="0.9"/>
<text x="154.20" y="96.56" font-size="7.8" text-anchor="end" fill="#111" stroke="#111" stroke-width="0.22">200</text>
<line x1="155.00" y1="78.12" x2="158.00" y2="78.12" stroke="#111" stroke-width="0.9"/>
<text x="154.20" y="81.02" font-size="7.8" text-anchor="end" fill="#111" stroke="#111" stroke-width="0.22">400</text>
<line x1="155.00" y1="62.58" x2="158.00" y2="62.58" stroke="#111" stroke-width="0.9"/>
<text x="154.20" y="65.48" font-size="7.8" text-anchor="end" fill="#111" stroke="#111" stroke-width="0.22">600</text>
<line x1="155.00" y1="47.04" x2="158.00" y2="47.04" stroke="#111" stroke-width="0.9"/>
<text x="154.20" y="49.94" font-size="7.8" text-anchor="end" fill="#111" stroke="#111" stroke-width="0.22">800</text>
<line x1="155.00" y1="31.50" x2="158.00" y2="31.50" stroke="#111" stroke-width="0.9"/>
<text x="154.20" y="34.40" font-size="7.8" text-anchor="end" fill="#111" stroke="#111" stroke-width="0.22">1,000</text>
<line x1="165.60" y1="109.20" x2="165.60" y2="111.60" stroke="#111" stroke-width="0.9"/>
<line x1="176.70" y1="109.20" x2="176.70" y2="111.60" stroke="#111" stroke-width="0.9"/>
<line x1="188.00" y1="109.20" x2="188.00" y2="111.60" stroke="#111" stroke-width="0.9"/>
<line x1="198.80" y1="109.20" x2="198.80" y2="111.60" stroke="#111" stroke-width="0.9"/>
<text x="131.30" y="65.60" font-size="8.6" text-anchor="middle" transform="rotate(-90 131.30 65.60)" fill="#111" stroke="#111" stroke-width="0.22">Tumor volume (mm<tspan font-size="5.5" dy="-2.6">3</tspan><tspan dy="2.6">)</tspan></text>
<text x="157.30" y="120.20" font-size="8.6" text-anchor="end" fill="#111" stroke="#111" stroke-width="0.22">UNC0642</text>
<text x="157.30" y="131.20" font-size="8.6" text-anchor="end" fill="#111" stroke="#111" stroke-width="0.22">GSK126</text>
<text x="165.60" y="120.10" font-size="9.5" text-anchor="middle" fill="#111" stroke="#111" stroke-width="0.22">-</text>
<text x="165.60" y="131.10" font-size="9.5" text-anchor="middle" fill="#111" stroke="#111" stroke-width="0.22">-</text>
<text x="176.70" y="119.90" font-size="8" text-anchor="middle" font-weight="bold" fill="#111" stroke="#111" stroke-width="0.22">+</text>
<text x="176.70" y="131.10" font-size="9.5" text-anchor="middle" fill="#111" stroke="#111" stroke-width="0.22">-</text>
<text x="188.00" y="120.10" font-size="9.5" text-anchor="middle" fill="#111" stroke="#111" stroke-width="0.22">-</text>
<text x="188.00" y="130.90" font-size="8" text-anchor="middle" font-weight="bold" fill="#111" stroke="#111" stroke-width="0.22">+</text>
<text x="198.80" y="119.90" font-size="8" text-anchor="middle" font-weight="bold" fill="#111" stroke="#111" stroke-width="0.22">+</text>
<text x="198.80" y="130.90" font-size="8" text-anchor="middle" font-weight="bold" fill="#111" stroke="#111" stroke-width="0.22">+</text>
<line x1="162.40" y1="59.86" x2="168.80" y2="59.86" stroke="#111" stroke-width="0.7"/>
<line x1="165.60" y1="55.98" x2="165.60" y2="63.75" stroke="#111" stroke-width="0.7"/>
<line x1="163.80" y1="55.98" x2="167.40" y2="55.98" stroke="#111" stroke-width="0.7"/>
<line x1="163.80" y1="63.75" x2="167.40" y2="63.75" stroke="#111" stroke-width="0.7"/>
<circle cx="166.00" cy="44.71" r="2.0" fill="#111"/>
<circle cx="164.00" cy="52.87" r="2.0" fill="#111"/>
<circle cx="167.20" cy="53.64" r="2.0" fill="#111"/>
<circle cx="166.00" cy="59.47" r="2.0" fill="#111"/>
<circle cx="164.20" cy="64.91" r="2.0" fill="#111"/>
<circle cx="167.40" cy="67.24" r="2.0" fill="#111"/>
<circle cx="165.80" cy="76.18" r="2.0" fill="#111"/>
<line x1="173.50" y1="77.34" x2="179.90" y2="77.34" stroke="#111" stroke-width="0.7"/>
<line x1="176.70" y1="74.23" x2="176.70" y2="80.45" stroke="#111" stroke-width="0.7"/>
<line x1="174.90" y1="74.23" x2="178.50" y2="74.23" stroke="#111" stroke-width="0.7"/>
<line x1="174.90" y1="80.45" x2="178.50" y2="80.45" stroke="#111" stroke-width="0.7"/>
<circle cx="177.00" cy="62.58" r="1.65" fill="none" stroke="#111" stroke-width="0.8"/>
<circle cx="177.00" cy="72.68" r="1.65" fill="none" stroke="#111" stroke-width="0.8"/>
<circle cx="177.50" cy="78.51" r="1.65" fill="none" stroke="#111" stroke-width="0.8"/>
<circle cx="175.90" cy="80.06" r="1.65" fill="none" stroke="#111" stroke-width="0.8"/>
<circle cx="177.30" cy="81.62" r="1.65" fill="none" stroke="#111" stroke-width="0.8"/>
<circle cx="176.40" cy="83.17" r="1.65" fill="none" stroke="#111" stroke-width="0.8"/>
<line x1="184.80" y1="71.13" x2="191.20" y2="71.13" stroke="#e8202a" stroke-width="0.7"/>
<line x1="188.00" y1="66.85" x2="188.00" y2="75.40" stroke="#e8202a" stroke-width="0.7"/>
<line x1="186.20" y1="66.85" x2="189.80" y2="66.85" stroke="#e8202a" stroke-width="0.7"/>
<line x1="186.20" y1="75.40" x2="189.80" y2="75.40" stroke="#e8202a" stroke-width="0.7"/>
<circle cx="186.80" cy="52.09" r="1.65" fill="none" stroke="#e8202a" stroke-width="0.8"/>
<circle cx="189.60" cy="54.81" r="1.65" fill="none" stroke="#e8202a" stroke-width="0.8"/>
<circle cx="188.00" cy="61.41" r="1.65" fill="none" stroke="#e8202a" stroke-width="0.8"/>
<circle cx="188.80" cy="71.90" r="1.65" fill="none" stroke="#e8202a" stroke-width="0.8"/>
<circle cx="187.20" cy="75.01" r="1.65" fill="none" stroke="#e8202a" stroke-width="0.8"/>
<circle cx="188.40" cy="77.34" r="1.65" fill="none" stroke="#e8202a" stroke-width="0.8"/>
<circle cx="189.20" cy="85.11" r="1.65" fill="none" stroke="#e8202a" stroke-width="0.8"/>
<circle cx="186.60" cy="87.83" r="1.65" fill="none" stroke="#e8202a" stroke-width="0.8"/>
<line x1="195.60" y1="93.66" x2="202.00" y2="93.66" stroke="#e8202a" stroke-width="0.7"/>
<line x1="198.80" y1="91.33" x2="198.80" y2="95.99" stroke="#e8202a" stroke-width="0.7"/>
<line x1="197.00" y1="91.33" x2="200.60" y2="91.33" stroke="#e8202a" stroke-width="0.7"/>
<line x1="197.00" y1="95.99" x2="200.60" y2="95.99" stroke="#e8202a" stroke-width="0.7"/>
<circle cx="200.60" cy="87.83" r="2.0" fill="#e8202a"/>
<circle cx="197.20" cy="90.55" r="2.0" fill="#e8202a"/>
<circle cx="199.00" cy="91.72" r="2.0" fill="#e8202a"/>
<circle cx="199.80" cy="93.66" r="2.0" fill="#e8202a"/>
<circle cx="198.60" cy="95.60" r="2.0" fill="#e8202a"/>
<circle cx="198.60" cy="103.76" r="2.0" fill="#e8202a"/>
<path d="M165.00 33.00V31.80H199.40V33.00" fill="none" stroke="#111" stroke-width="0.7"/>
<text x="182.60" y="32.70" font-size="7.8" text-anchor="middle" fill="#111" stroke="#111" stroke-width="0.4">****</text>
<path d="M165.00 40.40V39.20H177.00V40.40" fill="none" stroke="#111" stroke-width="0.7"/>
<text x="171.40" y="40.10" font-size="7.8" text-anchor="middle" fill="#111" stroke="#111" stroke-width="0.4">*</text>
<path d="M178.20 40.40V39.20H199.40V40.40" fill="none" stroke="#111" stroke-width="0.7"/>
<text x="189.20" y="40.10" font-size="7.8" text-anchor="middle" fill="#111" stroke="#111" stroke-width="0.4">*</text>
<path d="M190.00 49.10V47.90H199.40V49.10" fill="none" stroke="#111" stroke-width="0.7"/>
<text x="195.10" y="48.80" font-size="7.8" text-anchor="middle" fill="#111" stroke="#111" stroke-width="0.4">**</text>
</g>
<g id="scatB">
<line x1="164.20" y1="177.25" x2="164.20" y2="256.20" stroke="#111" stroke-width="0.9"/>
<line x1="163.80" y1="255.80" x2="211.50" y2="255.80" stroke="#111" stroke-width="0.9"/>
<line x1="161.20" y1="255.80" x2="164.20" y2="255.80" stroke="#111" stroke-width="0.9"/>
<text x="160.40" y="258.70" font-size="7.8" text-anchor="end" fill="#111" stroke="#111" stroke-width="0.22">0</text>
<line x1="161.20" y1="229.75" x2="164.20" y2="229.75" stroke="#111" stroke-width="0.9"/>
<text x="160.40" y="232.65" font-size="7.8" text-anchor="end" fill="#111" stroke="#111" stroke-width="0.22">500</text>
<line x1="161.20" y1="203.70" x2="164.20" y2="203.70" stroke="#111" stroke-width="0.9"/>
<text x="160.40" y="206.60" font-size="7.8" text-anchor="end" fill="#111" stroke="#111" stroke-width="0.22">1,000</text>
<line x1="161.20" y1="177.65" x2="164.20" y2="177.65" stroke="#111" stroke-width="0.9"/>
<text x="160.40" y="180.55" font-size="7.8" text-anchor="end" fill="#111" stroke="#111" stroke-width="0.22">1,500</text>
<line x1="171.30" y1="255.80" x2="171.30" y2="258.20" stroke="#111" stroke-width="0.9"/>
<line x1="182.30" y1="255.80" x2="182.30" y2="258.20" stroke="#111" stroke-width="0.9"/>
<line x1="193.50" y1="255.80" x2="193.50" y2="258.20" stroke="#111" stroke-width="0.9"/>
<line x1="204.50" y1="255.80" x2="204.50" y2="258.20" stroke="#111" stroke-width="0.9"/>
<text x="138.40" y="213.00" font-size="8.6" text-anchor="middle" transform="rotate(-90 138.40 213.00)" fill="#111" stroke="#111" stroke-width="0.22">Tumor volume (mm<tspan font-size="5.5" dy="-2.6">3</tspan><tspan dy="2.6">)</tspan></text>
<text x="164.90" y="268.60" font-size="8.6" text-anchor="end" fill="#111" stroke="#111" stroke-width="0.22">UNC0642</text>
<text x="164.90" y="279.40" font-size="8.6" text-anchor="end" fill="#111" stroke="#111" stroke-width="0.22">GSK126</text>
<text x="171.30" y="268.50" font-size="9.5" text-anchor="middle" fill="#111" stroke="#111" stroke-width="0.22">-</text>
<text x="171.30" y="279.30" font-size="9.5" text-anchor="middle" fill="#111" stroke="#111" stroke-width="0.22">-</text>
<text x="182.30" y="268.30" font-size="8" text-anchor="middle" font-weight="bold" fill="#111" stroke="#111" stroke-width="0.22">+</text>
<text x="182.30" y="279.30" font-size="9.5" text-anchor="middle" fill="#111" stroke="#111" stroke-width="0.22">-</text>
<text x="193.50" y="268.50" font-size="9.5" text-anchor="middle" fill="#111" stroke="#111" stroke-width="0.22">-</text>
<text x="193.50" y="279.10" font-size="8" text-anchor="middle" font-weight="bold" fill="#111" stroke="#111" stroke-width="0.22">+</text>
<text x="204.50" y="268.30" font-size="8" text-anchor="middle" font-weight="bold" fill="#111" stroke="#111" stroke-width="0.22">+</text>
<text x="204.50" y="279.10" font-size="8" text-anchor="middle" font-weight="bold" fill="#111" stroke="#111" stroke-width="0.22">+</text>
<line x1="168.10" y1="215.16" x2="174.50" y2="215.16" stroke="#111" stroke-width="0.7"/>
<line x1="171.30" y1="209.17" x2="171.30" y2="221.15" stroke="#111" stroke-width="0.7"/>
<line x1="169.50" y1="209.17" x2="173.10" y2="209.17" stroke="#111" stroke-width="0.7"/>
<line x1="169.50" y1="221.15" x2="173.10" y2="221.15" stroke="#111" stroke-width="0.7"/>
<circle cx="171.30" cy="205.78" r="2.0" fill="#111"/>
<circle cx="170.00" cy="210.99" r="2.0" fill="#111"/>
<circle cx="173.30" cy="212.56" r="2.0" fill="#111"/>
<circle cx="171.30" cy="232.36" r="2.0" fill="#111"/>
<line x1="179.10" y1="239.65" x2="185.50" y2="239.65" stroke="#111" stroke-width="0.7"/>
<line x1="182.30" y1="235.74" x2="182.30" y2="243.56" stroke="#111" stroke-width="0.7"/>
<line x1="180.50" y1="235.74" x2="184.10" y2="235.74" stroke="#111" stroke-width="0.7"/>
<line x1="180.50" y1="243.56" x2="184.10" y2="243.56" stroke="#111" stroke-width="0.7"/>
<circle cx="181.00" cy="231.31" r="1.65" fill="none" stroke="#111" stroke-width="0.8"/>
<circle cx="184.90" cy="233.40" r="1.65" fill="none" stroke="#111" stroke-width="0.8"/>
<circle cx="181.00" cy="236.26" r="1.65" fill="none" stroke="#111" stroke-width="0.8"/>
<circle cx="183.50" cy="243.82" r="1.65" fill="none" stroke="#111" stroke-width="0.8"/>
<circle cx="182.30" cy="252.67" r="1.65" fill="none" stroke="#111" stroke-width="0.8"/>
<line x1="190.30" y1="235.48" x2="196.70" y2="235.48" stroke="#e8202a" stroke-width="0.7"/>
<line x1="193.50" y1="228.45" x2="193.50" y2="242.51" stroke="#e8202a" stroke-width="0.7"/>
<line x1="191.70" y1="228.45" x2="195.30" y2="228.45" stroke="#e8202a" stroke-width="0.7"/>
<line x1="191.70" y1="242.51" x2="195.30" y2="242.51" stroke="#e8202a" stroke-width="0.7"/>
<circle cx="193.50" cy="212.82" r="1.65" fill="none" stroke="#e8202a" stroke-width="0.8"/>
<circle cx="191.90" cy="230.79" r="1.65" fill="none" stroke="#e8202a" stroke-width="0.8"/>
<circle cx="195.90" cy="230.01" r="1.65" fill="none" stroke="#e8202a" stroke-width="0.8"/>
<circle cx="193.50" cy="247.46" r="1.65" fill="none" stroke="#e8202a" stroke-width="0.8"/>
<circle cx="193.50" cy="255.80" r="1.65" fill="none" stroke="#e8202a" stroke-width="0.8"/>
<line x1="201.30" y1="248.77" x2="207.70" y2="248.77" stroke="#e8202a" stroke-width="0.7"/>
<line x1="204.50" y1="246.68" x2="204.50" y2="250.85" stroke="#e8202a" stroke-width="0.7"/>
<line x1="202.70" y1="246.68" x2="206.30" y2="246.68" stroke="#e8202a" stroke-width="0.7"/>
<line x1="202.70" y1="250.85" x2="206.30" y2="250.85" stroke="#e8202a" stroke-width="0.7"/>
<circle cx="203.00" cy="243.30" r="2.0" fill="#e8202a"/>
<circle cx="206.50" cy="246.16" r="2.0" fill="#e8202a"/>
<circle cx="202.50" cy="248.51" r="2.0" fill="#e8202a"/>
<circle cx="206.50" cy="250.33" r="2.0" fill="#e8202a"/>
<circle cx="204.50" cy="255.54" r="2.0" fill="#e8202a"/>
<path d="M171.30 193.60V192.40H204.50V193.60" fill="none" stroke="#111" stroke-width="0.7"/>
<text x="188.30" y="193.30" font-size="7.8" text-anchor="middle" fill="#111" stroke="#111" stroke-width="0.4">**</text>
<path d="M171.30 202.60V201.40H182.70V202.60" fill="none" stroke="#111" stroke-width="0.7"/>
<text x="177.40" y="202.30" font-size="7.8" text-anchor="middle" fill="#111" stroke="#111" stroke-width="0.4">*</text>
</g>
<g id="scatC">
<line x1="162.60" y1="324.45" x2="162.60" y2="402.80" stroke="#111" stroke-width="0.9"/>
<line x1="162.20" y1="402.40" x2="210.70" y2="402.40" stroke="#111" stroke-width="0.9"/>
<line x1="159.60" y1="402.40" x2="162.60" y2="402.40" stroke="#111" stroke-width="0.9"/>
<text x="158.80" y="405.30" font-size="7.8" text-anchor="end" fill="#111" stroke="#111" stroke-width="0.22">0</text>
<line x1="159.60" y1="376.55" x2="162.60" y2="376.55" stroke="#111" stroke-width="0.9"/>
<text x="158.80" y="379.45" font-size="7.8" text-anchor="end" fill="#111" stroke="#111" stroke-width="0.22">500</text>
<line x1="159.60" y1="350.70" x2="162.60" y2="350.70" stroke="#111" stroke-width="0.9"/>
<text x="158.80" y="353.60" font-size="7.8" text-anchor="end" fill="#111" stroke="#111" stroke-width="0.22">1,000</text>
<line x1="159.60" y1="324.85" x2="162.60" y2="324.85" stroke="#111" stroke-width="0.9"/>
<text x="158.80" y="327.75" font-size="7.8" text-anchor="end" fill="#111" stroke="#111" stroke-width="0.22">1,500</text>
<line x1="170.50" y1="402.40" x2="170.50" y2="404.80" stroke="#111" stroke-width="0.9"/>
<line x1="181.30" y1="402.40" x2="181.30" y2="404.80" stroke="#111" stroke-width="0.9"/>
<line x1="192.00" y1="402.40" x2="192.00" y2="404.80" stroke="#111" stroke-width="0.9"/>
<line x1="202.80" y1="402.40" x2="202.80" y2="404.80" stroke="#111" stroke-width="0.9"/>
<text x="137.00" y="361.80" font-size="8.6" text-anchor="middle" transform="rotate(-90 137.00 361.80)" fill="#111" stroke="#111" stroke-width="0.22">Tumor volume (mm<tspan font-size="5.5" dy="-2.6">3</tspan><tspan dy="2.6">)</tspan></text>
<text x="164.90" y="415.90" font-size="8.6" text-anchor="end" fill="#111" stroke="#111" stroke-width="0.22">UNC0642</text>
<text x="164.90" y="427.80" font-size="8.6" text-anchor="end" fill="#111" stroke="#111" stroke-width="0.22">GSK126</text>
<text x="170.50" y="415.80" font-size="9.5" text-anchor="middle" fill="#111" stroke="#111" stroke-width="0.22">-</text>
<text x="170.50" y="427.70" font-size="9.5" text-anchor="middle" fill="#111" stroke="#111" stroke-width="0.22">-</text>
<text x="181.30" y="415.60" font-size="8" text-anchor="middle" font-weight="bold" fill="#111" stroke="#111" stroke-width="0.22">+</text>
<text x="181.30" y="427.70" font-size="9.5" text-anchor="middle" fill="#111" stroke="#111" stroke-width="0.22">-</text>
<text x="192.00" y="415.80" font-size="9.5" text-anchor="middle" fill="#111" stroke="#111" stroke-width="0.22">-</text>
<text x="192.00" y="427.50" font-size="8" text-anchor="middle" font-weight="bold" fill="#111" stroke="#111" stroke-width="0.22">+</text>
<text x="202.80" y="415.60" font-size="8" text-anchor="middle" font-weight="bold" fill="#111" stroke="#111" stroke-width="0.22">+</text>
<text x="202.80" y="427.50" font-size="8" text-anchor="middle" font-weight="bold" fill="#111" stroke="#111" stroke-width="0.22">+</text>
<line x1="167.30" y1="359.49" x2="173.70" y2="359.49" stroke="#111" stroke-width="0.7"/>
<line x1="170.50" y1="357.16" x2="170.50" y2="361.82" stroke="#111" stroke-width="0.7"/>
<line x1="168.70" y1="357.16" x2="172.30" y2="357.16" stroke="#111" stroke-width="0.7"/>
<line x1="168.70" y1="361.82" x2="172.30" y2="361.82" stroke="#111" stroke-width="0.7"/>
<circle cx="170.50" cy="346.56" r="2.0" fill="#111"/>
<circle cx="170.50" cy="354.32" r="2.0" fill="#111"/>
<circle cx="168.20" cy="361.30" r="2.0" fill="#111"/>
<circle cx="172.80" cy="360.78" r="2.0" fill="#111"/>
<circle cx="169.30" cy="363.37" r="2.0" fill="#111"/>
<circle cx="171.90" cy="363.62" r="2.0" fill="#111"/>
<circle cx="170.50" cy="362.07" r="2.0" fill="#111"/>
<circle cx="167.60" cy="362.59" r="2.0" fill="#111"/>
<circle cx="173.50" cy="362.33" r="2.0" fill="#111"/>
<line x1="178.10" y1="377.58" x2="184.50" y2="377.58" stroke="#111" stroke-width="0.7"/>
<line x1="181.30" y1="373.71" x2="181.30" y2="381.46" stroke="#111" stroke-width="0.7"/>
<line x1="179.50" y1="373.71" x2="183.10" y2="373.71" stroke="#111" stroke-width="0.7"/>
<line x1="179.50" y1="381.46" x2="183.10" y2="381.46" stroke="#111" stroke-width="0.7"/>
<circle cx="181.50" cy="361.04" r="1.65" fill="none" stroke="#111" stroke-width="0.8"/>
<circle cx="181.50" cy="367.50" r="1.65" fill="none" stroke="#111" stroke-width="0.8"/>
<circle cx="180.00" cy="371.90" r="1.65" fill="none" stroke="#111" stroke-width="0.8"/>
<circle cx="183.50" cy="376.03" r="1.65" fill="none" stroke="#111" stroke-width="0.8"/>
<circle cx="180.00" cy="384.30" r="1.65" fill="none" stroke="#111" stroke-width="0.8"/>
<circle cx="183.50" cy="385.34" r="1.65" fill="none" stroke="#111" stroke-width="0.8"/>
<circle cx="181.50" cy="386.37" r="1.65" fill="none" stroke="#111" stroke-width="0.8"/>
<line x1="188.80" y1="380.17" x2="195.20" y2="380.17" stroke="#e8202a" stroke-width="0.7"/>
<line x1="192.00" y1="377.33" x2="192.00" y2="383.01" stroke="#e8202a" stroke-width="0.7"/>
<line x1="190.20" y1="377.33" x2="193.80" y2="377.33" stroke="#e8202a" stroke-width="0.7"/>
<line x1="190.20" y1="383.01" x2="193.80" y2="383.01" stroke="#e8202a" stroke-width="0.7"/>
<circle cx="191.50" cy="369.83" r="1.65" fill="none" stroke="#e8202a" stroke-width="0.8"/>
<circle cx="193.50" cy="371.38" r="1.65" fill="none" stroke="#e8202a" stroke-width="0.8"/>
<circle cx="193.00" cy="375.00" r="1.65" fill="none" stroke="#e8202a" stroke-width="0.8"/>
<circle cx="191.00" cy="377.07" r="1.65" fill="none" stroke="#e8202a" stroke-width="0.8"/>
<circle cx="191.50" cy="380.69" r="1.65" fill="none" stroke="#e8202a" stroke-width="0.8"/>
<circle cx="194.00" cy="382.24" r="1.65" fill="none" stroke="#e8202a" stroke-width="0.8"/>
<circle cx="194.00" cy="389.47" r="1.65" fill="none" stroke="#e8202a" stroke-width="0.8"/>
<circle cx="190.50" cy="393.87" r="1.65" fill="none" stroke="#e8202a" stroke-width="0.8"/>
<line x1="199.60" y1="393.87" x2="206.00" y2="393.87" stroke="#e8202a" stroke-width="0.7"/>
<line x1="202.80" y1="392.58" x2="202.80" y2="395.16" stroke="#e8202a" stroke-width="0.7"/>
<line x1="201.00" y1="392.58" x2="204.60" y2="392.58" stroke="#e8202a" stroke-width="0.7"/>
<line x1="201.00" y1="395.16" x2="204.60" y2="395.16" stroke="#e8202a" stroke-width="0.7"/>
<circle cx="201.00" cy="391.28" r="2.0" fill="#e8202a"/>
<circle cx="205.00" cy="391.28" r="2.0" fill="#e8202a"/>
<circle cx="203.00" cy="393.09" r="2.0" fill="#e8202a"/>
<circle cx="205.00" cy="395.68" r="2.0" fill="#e8202a"/>
<circle cx="201.00" cy="399.30" r="2.0" fill="#e8202a"/>
<circle cx="203.00" cy="392.32" r="2.0" fill="#e8202a"/>
<path d="M170.50 326.90V325.70H203.70V326.90" fill="none" stroke="#111" stroke-width="0.7"/>
<text x="187.50" y="326.60" font-size="7.8" text-anchor="middle" fill="#111" stroke="#111" stroke-width="0.4">****</text>
<path d="M170.50 333.90V332.70H191.80V333.90" fill="none" stroke="#111" stroke-width="0.7"/>
<text x="181.55" y="333.60" font-size="7.8" text-anchor="middle" fill="#111" stroke="#111" stroke-width="0.4">**</text>
<path d="M170.50 341.80V340.60H181.80V341.80" fill="none" stroke="#111" stroke-width="0.7"/>
<text x="176.55" y="341.50" font-size="7.8" text-anchor="middle" fill="#111" stroke="#111" stroke-width="0.4">***</text>
<path d="M183.00 341.80V340.60H203.70V341.80" fill="none" stroke="#111" stroke-width="0.7"/>
<text x="193.75" y="346.10" font-size="7.8" text-anchor="middle" fill="#111" stroke="#111" stroke-width="0.4">*</text>
<path d="M191.40 365.40V364.20H203.30V365.40" fill="none" stroke="#111" stroke-width="0.7"/>
<text x="197.75" y="365.10" font-size="7.8" text-anchor="middle" fill="#111" stroke="#111" stroke-width="0.4">**</text>
</g>
<g id="panelD">
<text x="221.00" y="10.60" font-size="11.5" font-weight="bold" fill="#000" stroke="#000" stroke-width="0.22">D</text>
<text x="330.50" y="9.60" font-size="8.6" text-anchor="middle" fill="#111" stroke="#111" stroke-width="0.22">MDA-MB-231</text>
<text x="262.70" y="27.90" font-size="8.6" text-anchor="middle" fill="#111" stroke="#111" stroke-width="0.22">Vehicle</text>
<text x="306.00" y="27.90" font-size="8.6" text-anchor="middle" fill="#111" stroke="#111" stroke-width="0.22">UNC0642</text>
<text x="353.80" y="27.90" font-size="8.6" text-anchor="middle" fill="#111" stroke="#111" stroke-width="0.22">GSK126</text>
<text x="397.50" y="16.10" font-size="8.6" text-anchor="middle" fill="#111" stroke="#111" stroke-width="0.22">UNC0642</text>
<text x="397.50" y="27.90" font-size="8.6" text-anchor="middle" fill="#111" stroke="#111" stroke-width="0.22">+GSK126</text>
<text x="237.20" y="56.30" font-size="8.6" text-anchor="end" fill="#111" stroke="#111" stroke-width="0.22">IL24</text>
<text x="237.20" y="108.60" font-size="8.6" text-anchor="end" fill="#111" stroke="#111" stroke-width="0.22">H&amp;E</text>
<svg x="238.70" y="31.30" width="43.10" height="45.30">
<rect width="43.10" height="45.30" fill="#b59da9"/>
<rect width="43.10" height="45.30" fill="#fff" filter="url(#tw0)" opacity="0.26"/>
<rect width="43.10" height="45.30" fill="#402030" filter="url(#td0)" opacity="0.2"/>
<rect x="23.70" y="17.00" width="19.4" height="28.3" fill="#c0aab8"/>
<rect x="23.70" y="17.00" width="19.4" height="28.3" fill="#fff" filter="url(#iw0)" opacity="0.45"/>
<rect x="23.70" y="17.00" width="19.4" height="28.3" fill="#3a1830" filter="url(#id0)" opacity="0.3"/>
<rect x="23.70" y="17.00" width="21.4" height="30.3" fill="none" stroke="#4a2c46" stroke-width="0.7"/>
<line x1="26.10" y1="42.40" x2="31.70" y2="42.40" stroke="#2a1a28" stroke-width="0.6"/>
<rect x="0.35" y="0.35" width="42.40" height="44.60" fill="none" stroke="#6c5c6a" stroke-width="0.7"/>
</svg>
<svg x="238.70" y="80.10" width="43.10" height="47.40">
<rect width="43.10" height="47.40" fill="#ab659c"/>
<rect width="43.10" height="47.40" fill="#fff" filter="url(#tw0)" opacity="0.18"/>
<rect width="43.10" height="47.40" fill="#402030" filter="url(#td0)" opacity="0.18"/>
<rect x="23.70" y="19.10" width="19.4" height="28.3" fill="#ad6ba0"/>
<rect x="23.70" y="19.10" width="19.4" height="28.3" fill="#fff" filter="url(#iw0)" opacity="0.45"/>
<rect x="23.70" y="19.10" width="19.4" height="28.3" fill="#3a1830" filter="url(#id0)" opacity="0.3"/>
<rect x="23.70" y="19.10" width="21.4" height="30.3" fill="none" stroke="#4a2c46" stroke-width="0.7"/>
<line x1="26.10" y1="44.50" x2="31.70" y2="44.50" stroke="#2a1a28" stroke-width="0.6"/>
<rect x="0.35" y="0.35" width="42.40" height="46.70" fill="none" stroke="#6c5c6a" stroke-width="0.7"/>
</svg>
<svg x="284.50" y="31.30" width="43.10" height="45.30">
<rect width="43.10" height="45.30" fill="#b0878d"/>
<rect width="43.10" height="45.30" fill="#fff" filter="url(#tw1)" opacity="0.26"/>
<rect width="43.10" height="45.30" fill="#402030" filter="url(#td1)" opacity="0.2"/>
<rect x="23.70" y="17.00" width="19.4" height="28.3" fill="#b8949a"/>
<rect x="23.70" y="17.00" width="19.4" height="28.3" fill="#fff" filter="url(#iw1)" opacity="0.45"/>
<rect x="23.70" y="17.00" width="19.4" height="28.3" fill="#3a1830" filter="url(#id1)" opacity="0.3"/>
<rect x="23.70" y="17.00" width="21.4" height="30.3" fill="none" stroke="#4a2c46" stroke-width="0.7"/>
<line x1="26.10" y1="42.40" x2="31.70" y2="42.40" stroke="#2a1a28" stroke-width="0.6"/>
<rect x="0.35" y="0.35" width="42.40" height="44.60" fill="none" stroke="#6c5c6a" stroke-width="0.7"/>
</svg>
<svg x="284.50" y="80.10" width="43.10" height="47.40">
<rect width="43.10" height="47.40" fill="#aa639a"/>
<rect width="43.10" height="47.40" fill="#fff" filter="url(#tw1)" opacity="0.18"/>
<rect width="43.10" height="47.40" fill="#402030" filter="url(#td1)" opacity="0.18"/>
<rect x="23.70" y="19.10" width="19.4" height="28.3" fill="#ad699e"/>
<rect x="23.70" y="19.10" width="19.4" height="28.3" fill="#fff" filter="url(#iw1)" opacity="0.45"/>
<rect x="23.70" y="19.10" width="19.4" height="28.3" fill="#3a1830" filter="url(#id1)" opacity="0.3"/>
<rect x="23.70" y="19.10" width="21.4" height="30.3" fill="none" stroke="#4a2c46" stroke-width="0.7"/>
<line x1="26.10" y1="44.50" x2="31.70" y2="44.50" stroke="#2a1a28" stroke-width="0.6"/>
<rect x="0.35" y="0.35" width="42.40" height="46.70" fill="none" stroke="#6c5c6a" stroke-width="0.7"/>
</svg>
<svg x="330.20" y="31.30" width="43.10" height="45.30">
<rect width="43.10" height="45.30" fill="#ba9ea8"/>
<path d="M-6 19.0C10.8 22.6 21.6 32.6 24.1 51.3H-6Z" fill="#d6c2ca" filter="url(#soft)"/>
<rect width="43.10" height="45.30" fill="#fff" filter="url(#tw2)" opacity="0.26"/>
<rect width="43.10" height="45.30" fill="#402030" filter="url(#td2)" opacity="0.2"/>
<rect x="23.70" y="17.00" width="19.4" height="28.3" fill="#c4a8b0"/>
<rect x="23.70" y="17.00" width="19.4" height="28.3" fill="#fff" filter="url(#iw2)" opacity="0.45"/>
<rect x="23.70" y="17.00" width="19.4" height="28.3" fill="#3a1830" filter="url(#id2)" opacity="0.3"/>
<rect x="23.70" y="17.00" width="21.4" height="30.3" fill="none" stroke="#4a2c46" stroke-width="0.7"/>
<line x1="26.10" y1="42.40" x2="31.70" y2="42.40" stroke="#2a1a28" stroke-width="0.6"/>
<rect x="0.35" y="0.35" width="42.40" height="44.60" fill="none" stroke="#6c5c6a" stroke-width="0.7"/>
</svg>
<svg x="330.20" y="80.10" width="43.10" height="47.40">
<rect width="43.10" height="47.40" fill="#a16396"/>
<rect width="43.10" height="47.40" fill="#fff" filter="url(#tw2)" opacity="0.18"/>
<rect width="43.10" height="47.40" fill="#402030" filter="url(#td2)" opacity="0.18"/>
<rect x="23.70" y="19.10" width="19.4" height="28.3" fill="#a5699a"/>
<rect x="23.70" y="19.10" width="19.4" height="28.3" fill="#fff" filter="url(#iw2)" opacity="0.45"/>
<rect x="23.70" y="19.10" width="19.4" height="28.3" fill="#3a1830" filter="url(#id2)" opacity="0.3"/>
<rect x="23.70" y="19.10" width="21.4" height="30.3" fill="none" stroke="#4a2c46" stroke-width="0.7"/>
<line x1="26.10" y1="44.50" x2="31.70" y2="44.50" stroke="#2a1a28" stroke-width="0.6"/>
<rect x="0.35" y="0.35" width="42.40" height="46.70" fill="none" stroke="#6c5c6a" stroke-width="0.7"/>
</svg>
<svg x="376.50" y="31.30" width="43.10" height="45.30">
<rect width="43.10" height="45.30" fill="#a87478"/>
<rect width="43.10" height="45.30" fill="url(#gM4)"/><rect x="-4" y="-3" width="51.10" height="5.5" fill="#874644" opacity="0.6" filter="url(#soft2)"/><path d="M0 32.6C2.6 39.9 7.8 43.9 14.7 45.3H0Z" fill="#fff" filter="url(#soft1)"/>
<rect width="43.10" height="45.30" fill="#fff" filter="url(#tw3)" opacity="0.12"/>
<rect width="43.10" height="45.30" fill="#402030" filter="url(#td3)" opacity="0.12"/>
<rect x="23.70" y="17.00" width="19.4" height="28.3" fill="#a86a66"/>
<rect x="23.70" y="17.00" width="19.4" height="28.3" fill="#fff" filter="url(#iw3)" opacity="0.4"/>
<rect x="23.70" y="17.00" width="19.4" height="28.3" fill="#3a1830" filter="url(#id3)" opacity="0.3"/>
<rect x="23.70" y="17.00" width="21.4" height="30.3" fill="none" stroke="#4a2c46" stroke-width="0.7"/>
<line x1="26.10" y1="42.40" x2="31.70" y2="42.40" stroke="#2a1a28" stroke-width="0.6"/>
<rect x="0.35" y="0.35" width="42.40" height="44.60" fill="none" stroke="#6c5c6a" stroke-width="0.7"/>
</svg>
<svg x="376.50" y="80.10" width="43.10" height="47.40">
<rect width="43.10" height="47.40" fill="#a76fa2"/>
<rect width="43.10" height="47.40" fill="url(#gMH4)"/><path d="M0 38.9C2.6 43.6 7.8 46.5 14.7 47.4H0Z" fill="#fff" filter="url(#soft1)"/>
<rect width="43.10" height="47.40" fill="#fff" filter="url(#tw3)" opacity="0.18"/>
<rect width="43.10" height="47.40" fill="#402030" filter="url(#td3)" opacity="0.18"/>
<rect x="23.70" y="19.10" width="19.4" height="28.3" fill="#ad79a8"/>
<rect x="23.70" y="19.10" width="19.4" height="28.3" fill="#fff" filter="url(#iw3)" opacity="0.45"/>
<rect x="23.70" y="19.10" width="19.4" height="28.3" fill="#3a1830" filter="url(#id3)" opacity="0.3"/>
<rect x="23.70" y="19.10" width="21.4" height="30.3" fill="none" stroke="#4a2c46" stroke-width="0.7"/>
<line x1="26.10" y1="44.50" x2="31.70" y2="44.50" stroke="#2a1a28" stroke-width="0.6"/>
<rect x="0.35" y="0.35" width="42.40" height="46.70" fill="none" stroke="#6c5c6a" stroke-width="0.7"/>
</svg>
<text x="330.50" y="155.60" font-size="8.6" text-anchor="middle" fill="#111" stroke="#111" stroke-width="0.22">CAOV3</text>
<text x="262.70" y="167.20" font-size="8.6" text-anchor="middle" fill="#111" stroke="#111" stroke-width="0.22">Vehicle</text>
<text x="306.00" y="167.20" font-size="8.6" text-anchor="middle" fill="#111" stroke="#111" stroke-width="0.22">UNC0642</text>
<text x="353.80" y="167.20" font-size="8.6" text-anchor="middle" fill="#111" stroke="#111" stroke-width="0.22">GSK126</text>
<text x="397.50" y="155.60" font-size="8.6" text-anchor="middle" fill="#111" stroke="#111" stroke-width="0.22">UNC0642</text>
<text x="397.50" y="167.20" font-size="8.6" text-anchor="middle" fill="#111" stroke="#111" stroke-width="0.22">+GSK126</text>
<text x="237.20" y="195.00" font-size="8.6" text-anchor="end" fill="#111" stroke="#111" stroke-width="0.22">IL24</text>
<text x="237.20" y="245.00" font-size="8.6" text-anchor="end" fill="#111" stroke="#111" stroke-width="0.22">H&amp;E</text>
<svg x="238.70" y="169.20" width="43.10" height="45.80">
<rect width="43.10" height="45.80" fill="#c0a4b0"/>
<rect width="43.10" height="45.80" fill="#fff" filter="url(#tw0)" opacity="0.3"/>
<rect width="43.10" height="45.80" fill="#402030" filter="url(#td0)" opacity="0.18"/>
<rect x="23.70" y="17.50" width="19.4" height="28.3" fill="#c6acb6"/>
<rect x="23.70" y="17.50" width="19.4" height="28.3" fill="#fff" filter="url(#iw0)" opacity="0.4"/>
<rect x="23.70" y="17.50" width="19.4" height="28.3" fill="#3a1830" filter="url(#id0)" opacity="0.25"/>
<rect x="23.70" y="17.50" width="21.4" height="30.3" fill="none" stroke="#4a2c46" stroke-width="0.7"/>
<line x1="26.10" y1="42.90" x2="31.70" y2="42.90" stroke="#2a1a28" stroke-width="0.6"/>
<rect x="0.35" y="0.35" width="42.40" height="45.10" fill="none" stroke="#6c5c6a" stroke-width="0.7"/>
</svg>
<svg x="238.70" y="219.00" width="43.10" height="46.60">
<rect width="43.10" height="46.60" fill="#ab639a"/>
<rect width="43.10" height="46.60" fill="#fff" filter="url(#tw0)" opacity="0.24"/>
<rect width="43.10" height="46.60" fill="#402030" filter="url(#td0)" opacity="0.2"/>
<rect x="23.70" y="18.30" width="19.4" height="28.3" fill="#ad699e"/>
<rect x="23.70" y="18.30" width="19.4" height="28.3" fill="#fff" filter="url(#iw0)" opacity="0.4"/>
<rect x="23.70" y="18.30" width="19.4" height="28.3" fill="#3a1830" filter="url(#id0)" opacity="0.3"/>
<rect x="23.70" y="18.30" width="21.4" height="30.3" fill="none" stroke="#4a2c46" stroke-width="0.7"/>
<line x1="26.10" y1="43.70" x2="31.70" y2="43.70" stroke="#2a1a28" stroke-width="0.6"/>
<rect x="0.35" y="0.35" width="42.40" height="45.90" fill="none" stroke="#6c5c6a" stroke-width="0.7"/>
</svg>
<svg x="284.50" y="169.20" width="43.10" height="45.80">
<rect width="43.10" height="45.80" fill="#be98a2"/>
<rect width="43.10" height="45.80" fill="#fff" filter="url(#tw1)" opacity="0.3"/>
<rect width="43.10" height="45.80" fill="#402030" filter="url(#td1)" opacity="0.18"/>
<rect x="23.70" y="17.50" width="19.4" height="28.3" fill="#ba929c"/>
<rect x="23.70" y="17.50" width="19.4" height="28.3" fill="#fff" filter="url(#iw1)" opacity="0.4"/>
<rect x="23.70" y="17.50" width="19.4" height="28.3" fill="#3a1830" filter="url(#id1)" opacity="0.25"/>
<rect x="23.70" y="17.50" width="21.4" height="30.3" fill="none" stroke="#4a2c46" stroke-width="0.7"/>
<line x1="26.10" y1="42.90" x2="31.70" y2="42.90" stroke="#2a1a28" stroke-width="0.6"/>
<rect x="0.35" y="0.35" width="42.40" height="45.10" fill="none" stroke="#6c5c6a" stroke-width="0.7"/>
</svg>
<svg x="284.50" y="219.00" width="43.10" height="46.60">
<rect width="43.10" height="46.60" fill="#ab5f94"/>
<rect width="43.10" height="46.60" fill="#fff" filter="url(#tw1)" opacity="0.24"/>
<rect width="43.10" height="46.60" fill="#402030" filter="url(#td1)" opacity="0.2"/>
<rect x="23.70" y="18.30" width="19.4" height="28.3" fill="#a35d92"/>
<rect x="23.70" y="18.30" width="19.4" height="28.3" fill="#fff" filter="url(#iw1)" opacity="0.4"/>
<rect x="23.70" y="18.30" width="19.4" height="28.3" fill="#3a1830" filter="url(#id1)" opacity="0.3"/>
<rect x="23.70" y="18.30" width="21.4" height="30.3" fill="none" stroke="#4a2c46" stroke-width="0.7"/>
<line x1="26.10" y1="43.70" x2="31.70" y2="43.70" stroke="#2a1a28" stroke-width="0.6"/>
<rect x="0.35" y="0.35" width="42.40" height="45.90" fill="none" stroke="#6c5c6a" stroke-width="0.7"/>
</svg>
<svg x="330.20" y="169.20" width="43.10" height="45.80">
<rect width="43.10" height="45.80" fill="#c2a0aa"/>
<rect width="43.10" height="45.80" fill="#fff" filter="url(#tw2)" opacity="0.3"/>
<rect width="43.10" height="45.80" fill="#402030" filter="url(#td2)" opacity="0.18"/>
<rect x="23.70" y="17.50" width="19.4" height="28.3" fill="#c6a8b0"/>
<rect x="23.70" y="17.50" width="19.4" height="28.3" fill="#fff" filter="url(#iw2)" opacity="0.4"/>
<rect x="23.70" y="17.50" width="19.4" height="28.3" fill="#3a1830" filter="url(#id2)" opacity="0.25"/>
<rect x="23.70" y="17.50" width="21.4" height="30.3" fill="none" stroke="#4a2c46" stroke-width="0.7"/>
<line x1="26.10" y1="42.90" x2="31.70" y2="42.90" stroke="#2a1a28" stroke-width="0.6"/>
<rect x="0.35" y="0.35" width="42.40" height="45.10" fill="none" stroke="#6c5c6a" stroke-width="0.7"/>
</svg>
<svg x="330.20" y="219.00" width="43.10" height="46.60">
<rect width="43.10" height="46.60" fill="#9f6396"/>
<rect width="43.10" height="46.60" fill="#fff" filter="url(#tw2)" opacity="0.24"/>
<rect width="43.10" height="46.60" fill="#402030" filter="url(#td2)" opacity="0.2"/>
<rect x="23.70" y="18.30" width="19.4" height="28.3" fill="#a775a2"/>
<rect x="23.70" y="18.30" width="19.4" height="28.3" fill="#fff" filter="url(#iw2)" opacity="0.4"/>
<rect x="23.70" y="18.30" width="19.4" height="28.3" fill="#3a1830" filter="url(#id2)" opacity="0.3"/>
<rect x="23.70" y="18.30" width="21.4" height="30.3" fill="none" stroke="#4a2c46" stroke-width="0.7"/>
<line x1="26.10" y1="43.70" x2="31.70" y2="43.70" stroke="#2a1a28" stroke-width="0.6"/>
<rect x="0.35" y="0.35" width="42.40" height="45.90" fill="none" stroke="#6c5c6a" stroke-width="0.7"/>
</svg>
<svg x="376.50" y="169.20" width="43.10" height="45.80">
<rect width="43.10" height="45.80" fill="#be96a0"/>
<rect y="25.2" width="43.10" height="27.5" fill="#b4848c" filter="url(#soft)" opacity="0.8"/>
<rect width="43.10" height="45.80" fill="#fff" filter="url(#tw3)" opacity="0.3"/>
<rect width="43.10" height="45.80" fill="#402030" filter="url(#td3)" opacity="0.18"/>
<rect x="23.70" y="17.50" width="19.4" height="28.3" fill="#be96a0"/>
<rect x="23.70" y="17.50" width="19.4" height="28.3" fill="#fff" filter="url(#iw3)" opacity="0.4"/>
<rect x="23.70" y="17.50" width="19.4" height="28.3" fill="#3a1830" filter="url(#id3)" opacity="0.25"/>
<rect x="23.70" y="17.50" width="21.4" height="30.3" fill="none" stroke="#4a2c46" stroke-width="0.7"/>
<line x1="26.10" y1="42.90" x2="31.70" y2="42.90" stroke="#2a1a28" stroke-width="0.6"/>
<rect x="0.35" y="0.35" width="42.40" height="45.10" fill="none" stroke="#6c5c6a" stroke-width="0.7"/>
</svg>
<svg x="376.50" y="219.00" width="43.10" height="46.60">
<rect width="43.10" height="46.60" fill="#a771a0"/>
<rect width="43.10" height="46.60" fill="#fff" filter="url(#tw3)" opacity="0.24"/>
<rect width="43.10" height="46.60" fill="#402030" filter="url(#td3)" opacity="0.2"/>
<rect x="23.70" y="18.30" width="19.4" height="28.3" fill="#a773a0"/>
<rect x="23.70" y="18.30" width="19.4" height="28.3" fill="#fff" filter="url(#iw3)" opacity="0.4"/>
<rect x="23.70" y="18.30" width="19.4" height="28.3" fill="#3a1830" filter="url(#id3)" opacity="0.3"/>
<rect x="23.70" y="18.30" width="21.4" height="30.3" fill="none" stroke="#4a2c46" stroke-width="0.7"/>
<line x1="26.10" y1="43.70" x2="31.70" y2="43.70" stroke="#2a1a28" stroke-width="0.6"/>
<rect x="0.35" y="0.35" width="42.40" height="45.90" fill="none" stroke="#6c5c6a" stroke-width="0.7"/>
</svg>
<text x="330.50" y="295.00" font-size="8.6" text-anchor="middle" fill="#111" stroke="#111" stroke-width="0.22">D14</text>
<text x="262.70" y="306.00" font-size="8.6" text-anchor="middle" fill="#111" stroke="#111" stroke-width="0.22">Vehicle</text>
<text x="306.00" y="306.00" font-size="8.6" text-anchor="middle" fill="#111" stroke="#111" stroke-width="0.22">UNC0642</text>
<text x="353.80" y="306.00" font-size="8.6" text-anchor="middle" fill="#111" stroke="#111" stroke-width="0.22">GSK126</text>
<text x="397.50" y="294.30" font-size="8.6" text-anchor="middle" fill="#111" stroke="#111" stroke-width="0.22">UNC0642</text>
<text x="397.50" y="306.00" font-size="8.6" text-anchor="middle" fill="#111" stroke="#111" stroke-width="0.22">+GSK126</text>
<text x="237.20" y="333.00" font-size="8.6" text-anchor="end" fill="#111" stroke="#111" stroke-width="0.22">IL24</text>
<text x="237.20" y="386.00" font-size="8.6" text-anchor="end" fill="#111" stroke="#111" stroke-width="0.22">H&amp;E</text>
<svg x="238.70" y="307.80" width="43.10" height="45.80">
<rect width="43.10" height="45.80" fill="#b08e82"/>
<path d="M-6 12.8C12.9 16.5 23.7 28.4 25.9 51.8H-6Z" fill="#ccbec4" filter="url(#soft)"/>
<rect width="43.10" height="45.80" fill="#fff" filter="url(#tw0)" opacity="0.2"/>
<rect width="43.10" height="45.80" fill="#402030" filter="url(#td0)" opacity="0.3"/>
<rect x="23.70" y="17.50" width="19.4" height="28.3" fill="#a88476"/>
<rect x="23.70" y="17.50" width="19.4" height="28.3" fill="#fff" filter="url(#iw0)" opacity="0.15"/>
<rect x="23.70" y="17.50" width="19.4" height="28.3" fill="#3a1830" filter="url(#id0)" opacity="0.4"/>
<rect x="23.70" y="17.50" width="21.4" height="30.3" fill="none" stroke="#4a2c46" stroke-width="0.7"/>
<line x1="26.10" y1="42.90" x2="31.70" y2="42.90" stroke="#2a1a28" stroke-width="0.6"/>
<rect x="0.35" y="0.35" width="42.40" height="45.10" fill="none" stroke="#6c5c6a" stroke-width="0.7"/>
</svg>
<svg x="238.70" y="358.00" width="43.10" height="45.60">
<rect width="43.10" height="45.60" fill="#b35b88"/>
<rect width="43.10" height="45.60" fill="#fff" filter="url(#tw0)" opacity="0.18"/>
<rect width="43.10" height="45.60" fill="#402030" filter="url(#td0)" opacity="0.22"/>
<rect x="23.70" y="17.30" width="19.4" height="28.3" fill="#af5b8a"/>
<rect x="23.70" y="17.30" width="19.4" height="28.3" fill="#fff" filter="url(#iw0)" opacity="0.25"/>
<rect x="23.70" y="17.30" width="19.4" height="28.3" fill="#3a1830" filter="url(#id0)" opacity="0.4"/>
<rect x="23.70" y="17.30" width="21.4" height="30.3" fill="none" stroke="#4a2c46" stroke-width="0.7"/>
<line x1="26.10" y1="42.70" x2="31.70" y2="42.70" stroke="#2a1a28" stroke-width="0.6"/>
<rect x="0.35" y="0.35" width="42.40" height="44.90" fill="none" stroke="#6c5c6a" stroke-width="0.7"/>
</svg>
<svg x="284.50" y="307.80" width="43.10" height="45.80">
<rect width="43.10" height="45.80" fill="#a88578"/>
<rect width="43.10" height="45.80" fill="#fff" filter="url(#tw1)" opacity="0.2"/>
<rect width="43.10" height="45.80" fill="#402030" filter="url(#td1)" opacity="0.3"/>
<rect x="23.70" y="17.50" width="19.4" height="28.3" fill="#a88678"/>
<rect x="23.70" y="17.50" width="19.4" height="28.3" fill="#fff" filter="url(#iw1)" opacity="0.15"/>
<rect x="23.70" y="17.50" width="19.4" height="28.3" fill="#3a1830" filter="url(#id1)" opacity="0.4"/>
<rect x="23.70" y="17.50" width="21.4" height="30.3" fill="none" stroke="#4a2c46" stroke-width="0.7"/>
<line x1="26.10" y1="42.90" x2="31.70" y2="42.90" stroke="#2a1a28" stroke-width="0.6"/>
<rect x="0.35" y="0.35" width="42.40" height="45.10" fill="none" stroke="#6c5c6a" stroke-width="0.7"/>
</svg>
<svg x="284.50" y="358.00" width="43.10" height="45.60">
<rect width="43.10" height="45.60" fill="#a56592"/>
<rect width="43.10" height="45.60" fill="#fff" filter="url(#tw1)" opacity="0.18"/>
<rect width="43.10" height="45.60" fill="#402030" filter="url(#td1)" opacity="0.22"/>
<rect x="23.70" y="17.30" width="19.4" height="28.3" fill="#a76996"/>
<rect x="23.70" y="17.30" width="19.4" height="28.3" fill="#fff" filter="url(#iw1)" opacity="0.25"/>
<rect x="23.70" y="17.30" width="19.4" height="28.3" fill="#3a1830" filter="url(#id1)" opacity="0.4"/>
<rect x="23.70" y="17.30" width="21.4" height="30.3" fill="none" stroke="#4a2c46" stroke-width="0.7"/>
<line x1="26.10" y1="42.70" x2="31.70" y2="42.70" stroke="#2a1a28" stroke-width="0.6"/>
<rect x="0.35" y="0.35" width="42.40" height="44.90" fill="none" stroke="#6c5c6a" stroke-width="0.7"/>
</svg>
<svg x="330.20" y="307.80" width="43.10" height="45.80">
<rect width="43.10" height="45.80" fill="#a9867a"/>
<rect width="43.10" height="45.80" fill="#fff" filter="url(#tw2)" opacity="0.2"/>
<rect width="43.10" height="45.80" fill="#402030" filter="url(#td2)" opacity="0.3"/>
<rect x="23.70" y="17.50" width="19.4" height="28.3" fill="#a48072"/>
<rect x="23.70" y="17.50" width="19.4" height="28.3" fill="#fff" filter="url(#iw2)" opacity="0.15"/>
<rect x="23.70" y="17.50" width="19.4" height="28.3" fill="#3a1830" filter="url(#id2)" opacity="0.4"/>
<rect x="23.70" y="17.50" width="21.4" height="30.3" fill="none" stroke="#4a2c46" stroke-width="0.7"/>
<line x1="26.10" y1="42.90" x2="31.70" y2="42.90" stroke="#2a1a28" stroke-width="0.6"/>
<rect x="0.35" y="0.35" width="42.40" height="45.10" fill="none" stroke="#6c5c6a" stroke-width="0.7"/>
</svg>
<svg x="330.20" y="358.00" width="43.10" height="45.60">
<rect width="43.10" height="45.60" fill="#a76390"/>
<rect width="43.10" height="45.60" fill="#fff" filter="url(#tw2)" opacity="0.18"/>
<rect width="43.10" height="45.60" fill="#402030" filter="url(#td2)" opacity="0.22"/>
<rect x="23.70" y="17.30" width="19.4" height="28.3" fill="#a96994"/>
<rect x="23.70" y="17.30" width="19.4" height="28.3" fill="#fff" filter="url(#iw2)" opacity="0.25"/>
<rect x="23.70" y="17.30" width="19.4" height="28.3" fill="#3a1830" filter="url(#id2)" opacity="0.4"/>
<rect x="23.70" y="17.30" width="21.4" height="30.3" fill="none" stroke="#4a2c46" stroke-width="0.7"/>
<line x1="26.10" y1="42.70" x2="31.70" y2="42.70" stroke="#2a1a28" stroke-width="0.6"/>
<rect x="0.35" y="0.35" width="42.40" height="44.90" fill="none" stroke="#6c5c6a" stroke-width="0.7"/>
</svg>
<svg x="376.50" y="307.80" width="43.10" height="45.80">
<rect width="43.10" height="45.80" fill="#9c7364"/>
<path d="M37.1 0C39.7 1.4 41.8 3.2 43.1 6.4V0Z" fill="#fff" filter="url(#soft1)"/>
<rect width="43.10" height="45.80" fill="#fff" filter="url(#tw3)" opacity="0.2"/>
<rect width="43.10" height="45.80" fill="#402030" filter="url(#td3)" opacity="0.3"/>
<rect x="23.70" y="17.50" width="19.4" height="28.3" fill="#9c7364"/>
<rect x="23.70" y="17.50" width="19.4" height="28.3" fill="#fff" filter="url(#iw3)" opacity="0.15"/>
<rect x="23.70" y="17.50" width="19.4" height="28.3" fill="#3a1830" filter="url(#id3)" opacity="0.4"/>
<rect x="23.70" y="17.50" width="21.4" height="30.3" fill="none" stroke="#4a2c46" stroke-width="0.7"/>
<line x1="26.10" y1="42.90" x2="31.70" y2="42.90" stroke="#2a1a28" stroke-width="0.6"/>
<rect x="0.35" y="0.35" width="42.40" height="45.10" fill="none" stroke="#6c5c6a" stroke-width="0.7"/>
</svg>
<svg x="376.50" y="358.00" width="43.10" height="45.60">
<rect width="43.10" height="45.60" fill="#8d5f9a"/>
<path d="M34.5 0C38.4 1.4 41.4 4.1 43.1 8.2V0Z" fill="#fff" filter="url(#soft1)"/>
<rect width="43.10" height="45.60" fill="#fff" filter="url(#tw3)" opacity="0.18"/>
<rect width="43.10" height="45.60" fill="#402030" filter="url(#td3)" opacity="0.22"/>
<rect x="23.70" y="17.30" width="19.4" height="28.3" fill="#a37fa8"/>
<rect x="23.70" y="17.30" width="19.4" height="28.3" fill="#fff" filter="url(#iw3)" opacity="0.25"/>
<rect x="23.70" y="17.30" width="19.4" height="28.3" fill="#3a1830" filter="url(#id3)" opacity="0.4"/>
<rect x="23.70" y="17.30" width="21.4" height="30.3" fill="none" stroke="#4a2c46" stroke-width="0.7"/>
<line x1="26.10" y1="42.70" x2="31.70" y2="42.70" stroke="#2a1a28" stroke-width="0.6"/>
<rect x="0.35" y="0.35" width="42.40" height="44.90" fill="none" stroke="#6c5c6a" stroke-width="0.7"/>
</svg>
</g>
<g id="bars">
<line x1="449.50" y1="63.67" x2="449.50" y2="67.60" stroke="#222" stroke-width="0.7"/>
<line x1="447.30" y1="63.67" x2="451.70" y2="63.67" stroke="#222" stroke-width="0.7"/>
<rect x="445.20" y="67.60" width="8.6" height="46.20" fill="#0a0a0a" stroke="#222" stroke-width="0.5"/>
<line x1="458.45" y1="62.51" x2="458.45" y2="65.48" stroke="#222" stroke-width="0.7"/>
<line x1="456.25" y1="62.51" x2="460.65" y2="62.51" stroke="#222" stroke-width="0.7"/>
<rect x="454.15" y="65.48" width="8.6" height="48.32" fill="#d6d6d6" stroke="#222" stroke-width="0.5"/>
<line x1="467.40" y1="72.17" x2="467.40" y2="75.57" stroke="#222" stroke-width="0.7"/>
<line x1="465.20" y1="72.17" x2="469.60" y2="72.17" stroke="#222" stroke-width="0.7"/>
<rect x="463.10" y="75.57" width="8.6" height="38.23" fill="#6e6e6e" stroke="#222" stroke-width="0.5"/>
<line x1="476.35" y1="45.51" x2="476.35" y2="48.49" stroke="#222" stroke-width="0.7"/>
<line x1="474.15" y1="45.51" x2="478.55" y2="45.51" stroke="#222" stroke-width="0.7"/>
<rect x="472.05" y="48.49" width="8.6" height="65.31" fill="#ec1c24" stroke="#222" stroke-width="0.5"/>
<line x1="486.60" y1="110.30" x2="486.60" y2="110.93" stroke="#222" stroke-width="0.7"/>
<line x1="484.40" y1="110.30" x2="488.80" y2="110.30" stroke="#222" stroke-width="0.7"/>
<rect x="482.30" y="110.93" width="8.6" height="2.87" fill="#0a0a0a" stroke="#222" stroke-width="0.5"/>
<line x1="495.55" y1="108.28" x2="495.55" y2="109.02" stroke="#222" stroke-width="0.7"/>
<line x1="493.35" y1="108.28" x2="497.75" y2="108.28" stroke="#222" stroke-width="0.7"/>
<rect x="491.25" y="109.02" width="8.6" height="4.78" fill="#d6d6d6" stroke="#222" stroke-width="0.5"/>
<line x1="504.50" y1="107.43" x2="504.50" y2="109.34" stroke="#222" stroke-width="0.7"/>
<line x1="502.30" y1="107.43" x2="506.70" y2="107.43" stroke="#222" stroke-width="0.7"/>
<rect x="500.20" y="109.34" width="8.6" height="4.46" fill="#6e6e6e" stroke="#222" stroke-width="0.5"/>
<line x1="513.45" y1="56.13" x2="513.45" y2="62.29" stroke="#222" stroke-width="0.7"/>
<line x1="511.25" y1="56.13" x2="515.65" y2="56.13" stroke="#222" stroke-width="0.7"/>
<rect x="509.15" y="62.29" width="8.6" height="51.51" fill="#ec1c24" stroke="#222" stroke-width="0.5"/>
<line x1="443.10" y1="28.44" x2="443.10" y2="114.20" stroke="#111" stroke-width="0.9"/>
<line x1="442.70" y1="113.80" x2="518.80" y2="113.80" stroke="#111" stroke-width="0.9"/>
<line x1="440.30" y1="113.80" x2="443.10" y2="113.80" stroke="#111" stroke-width="0.9"/>
<text x="439.30" y="116.90" font-size="8.6" text-anchor="end" fill="#111" stroke="#111" stroke-width="0.22">0</text>
<line x1="440.30" y1="92.56" x2="443.10" y2="92.56" stroke="#111" stroke-width="0.9"/>
<text x="439.30" y="95.66" font-size="8.6" text-anchor="end" fill="#111" stroke="#111" stroke-width="0.22">2</text>
<line x1="440.30" y1="71.32" x2="443.10" y2="71.32" stroke="#111" stroke-width="0.9"/>
<text x="439.30" y="74.42" font-size="8.6" text-anchor="end" fill="#111" stroke="#111" stroke-width="0.22">4</text>
<line x1="440.30" y1="50.08" x2="443.10" y2="50.08" stroke="#111" stroke-width="0.9"/>
<text x="439.30" y="53.18" font-size="8.6" text-anchor="end" fill="#111" stroke="#111" stroke-width="0.22">6</text>
<line x1="440.30" y1="28.84" x2="443.10" y2="28.84" stroke="#111" stroke-width="0.9"/>
<text x="439.30" y="31.94" font-size="8.6" text-anchor="end" fill="#111" stroke="#111" stroke-width="0.22">8</text>
<text x="430.50" y="72.00" font-size="8.75" text-anchor="middle" transform="rotate(-90 430.50 72.00)" fill="#111" stroke="#111" stroke-width="0.22">Positive pixels/area (μm)</text>
<text x="482.20" y="11.10" font-size="8.6" text-anchor="middle" fill="#111" stroke="#111" stroke-width="0.22">MDA-MB-231</text>
<text x="464.00" y="125.40" font-size="8.6" text-anchor="middle" fill="#111" stroke="#111" stroke-width="0.22">Positive</text>
<text x="500.20" y="125.40" font-size="8.6" text-anchor="middle" fill="#111" stroke="#111" stroke-width="0.22">Strong</text>
<text x="500.20" y="136.30" font-size="8.6" text-anchor="middle" fill="#111" stroke="#111" stroke-width="0.22">positive</text>
<path d="M448.70 28.00V26.80H477.00V28.00" fill="none" stroke="#111" stroke-width="0.7"/>
<text x="463.25" y="27.30" font-size="9.6" text-anchor="middle" fill="#111" stroke="#111" stroke-width="0.4">*</text>
<path d="M457.60 34.60V33.40H477.00V34.60" fill="none" stroke="#111" stroke-width="0.7"/>
<text x="467.70" y="33.90" font-size="9.6" text-anchor="middle" fill="#111" stroke="#111" stroke-width="0.4">*</text>
<path d="M466.50 42.50V41.30H477.00V42.50" fill="none" stroke="#111" stroke-width="0.7"/>
<text x="472.15" y="41.80" font-size="9.6" text-anchor="middle" fill="#111" stroke="#111" stroke-width="0.4">***</text>
<path d="M485.30 35.40V34.20H513.50V35.40" fill="none" stroke="#111" stroke-width="0.7"/>
<text x="499.80" y="34.70" font-size="9.6" text-anchor="middle" fill="#111" stroke="#111" stroke-width="0.4">****</text>
<path d="M494.90 41.90V40.70H513.50V41.90" fill="none" stroke="#111" stroke-width="0.7"/>
<text x="504.60" y="41.20" font-size="9.6" text-anchor="middle" fill="#111" stroke="#111" stroke-width="0.4">**</text>
<path d="M504.20 52.40V51.20H516.00V52.40" fill="none" stroke="#111" stroke-width="0.7"/>
<text x="510.50" y="51.70" font-size="9.6" text-anchor="middle" fill="#111" stroke="#111" stroke-width="0.4">***</text>
<line x1="449.50" y1="215.31" x2="449.50" y2="216.38" stroke="#222" stroke-width="0.7"/>
<line x1="447.30" y1="215.31" x2="451.70" y2="215.31" stroke="#222" stroke-width="0.7"/>
<rect x="445.20" y="216.38" width="8.6" height="38.52" fill="#0a0a0a" stroke="#222" stroke-width="0.5"/>
<line x1="458.45" y1="211.03" x2="458.45" y2="215.31" stroke="#222" stroke-width="0.7"/>
<line x1="456.25" y1="211.03" x2="460.65" y2="211.03" stroke="#222" stroke-width="0.7"/>
<rect x="454.15" y="215.31" width="8.6" height="39.59" fill="#d6d6d6" stroke="#222" stroke-width="0.5"/>
<line x1="467.40" y1="216.38" x2="467.40" y2="220.02" stroke="#222" stroke-width="0.7"/>
<line x1="465.20" y1="216.38" x2="469.60" y2="216.38" stroke="#222" stroke-width="0.7"/>
<rect x="463.10" y="220.02" width="8.6" height="34.88" fill="#6e6e6e" stroke="#222" stroke-width="0.5"/>
<line x1="476.35" y1="200.12" x2="476.35" y2="202.04" stroke="#222" stroke-width="0.7"/>
<line x1="474.15" y1="200.12" x2="478.55" y2="200.12" stroke="#222" stroke-width="0.7"/>
<rect x="472.05" y="202.04" width="8.6" height="52.86" fill="#ec1c24" stroke="#222" stroke-width="0.5"/>
<line x1="486.60" y1="236.07" x2="486.60" y2="237.57" stroke="#222" stroke-width="0.7"/>
<line x1="484.40" y1="236.07" x2="488.80" y2="236.07" stroke="#222" stroke-width="0.7"/>
<rect x="482.30" y="237.57" width="8.6" height="17.33" fill="#0a0a0a" stroke="#222" stroke-width="0.5"/>
<line x1="495.55" y1="212.10" x2="495.55" y2="219.16" stroke="#222" stroke-width="0.7"/>
<line x1="493.35" y1="212.10" x2="497.75" y2="212.10" stroke="#222" stroke-width="0.7"/>
<rect x="491.25" y="219.16" width="8.6" height="35.74" fill="#d6d6d6" stroke="#222" stroke-width="0.5"/>
<line x1="504.50" y1="223.66" x2="504.50" y2="228.79" stroke="#222" stroke-width="0.7"/>
<line x1="502.30" y1="223.66" x2="506.70" y2="223.66" stroke="#222" stroke-width="0.7"/>
<rect x="500.20" y="228.79" width="8.6" height="26.11" fill="#6e6e6e" stroke="#222" stroke-width="0.5"/>
<line x1="513.45" y1="179.57" x2="513.45" y2="185.99" stroke="#222" stroke-width="0.7"/>
<line x1="511.25" y1="179.57" x2="515.65" y2="179.57" stroke="#222" stroke-width="0.7"/>
<rect x="509.15" y="185.99" width="8.6" height="68.91" fill="#ec1c24" stroke="#222" stroke-width="0.5"/>
<line x1="443.20" y1="168.90" x2="443.20" y2="255.30" stroke="#111" stroke-width="0.9"/>
<line x1="442.80" y1="254.90" x2="518.80" y2="254.90" stroke="#111" stroke-width="0.9"/>
<line x1="440.40" y1="254.90" x2="443.20" y2="254.90" stroke="#111" stroke-width="0.9"/>
<text x="439.40" y="258.00" font-size="8.6" text-anchor="end" fill="#111" stroke="#111" stroke-width="0.22">0</text>
<line x1="440.40" y1="233.50" x2="443.20" y2="233.50" stroke="#111" stroke-width="0.9"/>
<text x="439.40" y="236.60" font-size="8.6" text-anchor="end" fill="#111" stroke="#111" stroke-width="0.22">1</text>
<line x1="440.40" y1="212.10" x2="443.20" y2="212.10" stroke="#111" stroke-width="0.9"/>
<text x="439.40" y="215.20" font-size="8.6" text-anchor="end" fill="#111" stroke="#111" stroke-width="0.22">2</text>
<line x1="440.40" y1="190.70" x2="443.20" y2="190.70" stroke="#111" stroke-width="0.9"/>
<text x="439.40" y="193.80" font-size="8.6" text-anchor="end" fill="#111" stroke="#111" stroke-width="0.22">3</text>
<line x1="440.40" y1="169.30" x2="443.20" y2="169.30" stroke="#111" stroke-width="0.9"/>
<text x="439.40" y="172.40" font-size="8.6" text-anchor="end" fill="#111" stroke="#111" stroke-width="0.22">4</text>
<text x="430.50" y="212.00" font-size="8.75" text-anchor="middle" transform="rotate(-90 430.50 212.00)" fill="#111" stroke="#111" stroke-width="0.22">Positive pixels/area (μm)</text>
<text x="481.60" y="153.70" font-size="8.6" text-anchor="middle" fill="#111" stroke="#111" stroke-width="0.22">CAOV3</text>
<text x="456.00" y="267.20" font-size="8.6" text-anchor="middle" fill="#111" stroke="#111" stroke-width="0.22">Positive</text>
<text x="500.20" y="266.00" font-size="8.6" text-anchor="middle" fill="#111" stroke="#111" stroke-width="0.22">Strong</text>
<text x="500.20" y="276.70" font-size="8.6" text-anchor="middle" fill="#111" stroke="#111" stroke-width="0.22">positive</text>
<path d="M450.70 182.90V181.70H476.80V182.90" fill="none" stroke="#111" stroke-width="0.7"/>
<text x="464.15" y="182.20" font-size="9.6" text-anchor="middle" fill="#111" stroke="#111" stroke-width="0.4">*</text>
<path d="M459.60 189.20V188.00H476.80V189.20" fill="none" stroke="#111" stroke-width="0.7"/>
<text x="468.60" y="188.50" font-size="9.6" text-anchor="middle" fill="#111" stroke="#111" stroke-width="0.4">*</text>
<path d="M467.50 196.70V195.50H476.80V196.70" fill="none" stroke="#111" stroke-width="0.7"/>
<text x="472.55" y="196.00" font-size="9.6" text-anchor="middle" fill="#111" stroke="#111" stroke-width="0.4">***</text>
<path d="M488.30 164.10V162.90H514.70V164.10" fill="none" stroke="#111" stroke-width="0.7"/>
<text x="501.90" y="163.40" font-size="9.6" text-anchor="middle" fill="#111" stroke="#111" stroke-width="0.4">****</text>
<path d="M497.20 170.00V168.80H514.70V170.00" fill="none" stroke="#111" stroke-width="0.7"/>
<text x="506.35" y="169.30" font-size="9.6" text-anchor="middle" fill="#111" stroke="#111" stroke-width="0.4">*</text>
<path d="M505.50 176.50V175.30H514.70V176.50" fill="none" stroke="#111" stroke-width="0.7"/>
<text x="510.50" y="175.80" font-size="9.6" text-anchor="middle" fill="#111" stroke="#111" stroke-width="0.4">**</text>
<line x1="450.60" y1="368.88" x2="450.60" y2="372.15" stroke="#222" stroke-width="0.7"/>
<line x1="448.40" y1="368.88" x2="452.80" y2="368.88" stroke="#222" stroke-width="0.7"/>
<rect x="446.30" y="372.15" width="8.6" height="27.25" fill="#0a0a0a" stroke="#222" stroke-width="0.5"/>
<line x1="459.55" y1="332.69" x2="459.55" y2="335.96" stroke="#222" stroke-width="0.7"/>
<line x1="457.35" y1="332.69" x2="461.75" y2="332.69" stroke="#222" stroke-width="0.7"/>
<rect x="455.25" y="335.96" width="8.6" height="63.44" fill="#d6d6d6" stroke="#222" stroke-width="0.5"/>
<line x1="468.50" y1="332.15" x2="468.50" y2="335.09" stroke="#222" stroke-width="0.7"/>
<line x1="466.30" y1="332.15" x2="470.70" y2="332.15" stroke="#222" stroke-width="0.7"/>
<rect x="464.20" y="335.09" width="8.6" height="64.31" fill="#6e6e6e" stroke="#222" stroke-width="0.5"/>
<line x1="477.45" y1="329.75" x2="477.45" y2="332.36" stroke="#222" stroke-width="0.7"/>
<line x1="475.25" y1="329.75" x2="479.65" y2="329.75" stroke="#222" stroke-width="0.7"/>
<rect x="473.15" y="332.36" width="8.6" height="67.04" fill="#ec1c24" stroke="#222" stroke-width="0.5"/>
<rect x="482.50" y="399.18" width="8.6" height="0.22" fill="#0a0a0a" stroke="#222" stroke-width="0.5"/>
<line x1="495.75" y1="347.41" x2="495.75" y2="351.44" stroke="#222" stroke-width="0.7"/>
<line x1="493.55" y1="347.41" x2="497.95" y2="347.41" stroke="#222" stroke-width="0.7"/>
<rect x="491.45" y="351.44" width="8.6" height="47.96" fill="#d6d6d6" stroke="#222" stroke-width="0.5"/>
<line x1="504.70" y1="346.86" x2="504.70" y2="349.04" stroke="#222" stroke-width="0.7"/>
<line x1="502.50" y1="346.86" x2="506.90" y2="346.86" stroke="#222" stroke-width="0.7"/>
<rect x="500.40" y="349.04" width="8.6" height="50.36" fill="#6e6e6e" stroke="#222" stroke-width="0.5"/>
<line x1="513.65" y1="318.41" x2="513.65" y2="323.43" stroke="#222" stroke-width="0.7"/>
<line x1="511.45" y1="318.41" x2="515.85" y2="318.41" stroke="#222" stroke-width="0.7"/>
<rect x="509.35" y="323.43" width="8.6" height="75.97" fill="#ec1c24" stroke="#222" stroke-width="0.5"/>
<line x1="445.50" y1="311.80" x2="445.50" y2="399.80" stroke="#111" stroke-width="0.9"/>
<line x1="445.10" y1="399.40" x2="518.80" y2="399.40" stroke="#111" stroke-width="0.9"/>
<line x1="441.30" y1="399.40" x2="445.50" y2="399.40" stroke="#111" stroke-width="0.9"/>
<text x="437.30" y="402.50" font-size="8.6" text-anchor="end" fill="#111" stroke="#111" stroke-width="0.22">0</text>
<line x1="441.30" y1="377.60" x2="445.50" y2="377.60" stroke="#111" stroke-width="0.9"/>
<text x="437.30" y="380.70" font-size="8.6" text-anchor="end" fill="#111" stroke="#111" stroke-width="0.22">2</text>
<line x1="441.30" y1="355.80" x2="445.50" y2="355.80" stroke="#111" stroke-width="0.9"/>
<text x="437.30" y="358.90" font-size="8.6" text-anchor="end" fill="#111" stroke="#111" stroke-width="0.22">4</text>
<line x1="441.30" y1="334.00" x2="445.50" y2="334.00" stroke="#111" stroke-width="0.9"/>
<text x="437.30" y="337.10" font-size="8.6" text-anchor="end" fill="#111" stroke="#111" stroke-width="0.22">6</text>
<line x1="441.30" y1="312.20" x2="445.50" y2="312.20" stroke="#111" stroke-width="0.9"/>
<text x="437.30" y="315.30" font-size="8.6" text-anchor="end" fill="#111" stroke="#111" stroke-width="0.22">8</text>
<line x1="462.00" y1="399.40" x2="462.00" y2="401.80" stroke="#111" stroke-width="0.9"/>
<line x1="500.20" y1="399.40" x2="500.20" y2="401.80" stroke="#111" stroke-width="0.9"/>
<text x="430.50" y="356.00" font-size="8.75" text-anchor="middle" transform="rotate(-90 430.50 356.00)" fill="#111" stroke="#111" stroke-width="0.22">Positive pixels/area (μm)</text>
<text x="481.50" y="291.80" font-size="8.6" text-anchor="middle" fill="#111" stroke="#111" stroke-width="0.22">D14</text>
<text x="466.00" y="412.30" font-size="8.6" text-anchor="middle" fill="#111" stroke="#111" stroke-width="0.22">Positive</text>
<text x="500.20" y="412.00" font-size="8.6" text-anchor="middle" fill="#111" stroke="#111" stroke-width="0.22">Strong</text>
<text x="500.20" y="422.80" font-size="8.6" text-anchor="middle" fill="#111" stroke="#111" stroke-width="0.22">positive</text>
<path d="M449.30 313.40V312.20H476.80V313.40" fill="none" stroke="#111" stroke-width="0.7"/>
<text x="463.45" y="312.70" font-size="9.6" text-anchor="middle" fill="#111" stroke="#111" stroke-width="0.4">****</text>
<path d="M449.30 320.90V319.70H467.50V320.90" fill="none" stroke="#111" stroke-width="0.7"/>
<text x="458.80" y="320.20" font-size="9.6" text-anchor="middle" fill="#111" stroke="#111" stroke-width="0.4">***</text>
<path d="M449.30 328.20V327.00H458.20V328.20" fill="none" stroke="#111" stroke-width="0.7"/>
<text x="454.15" y="327.50" font-size="9.6" text-anchor="middle" fill="#111" stroke="#111" stroke-width="0.4">**</text>
<path d="M486.00 300.70V299.50H513.50V300.70" fill="none" stroke="#111" stroke-width="0.7"/>
<text x="500.15" y="300.00" font-size="9.6" text-anchor="middle" fill="#111" stroke="#111" stroke-width="0.4">****</text>
<path d="M495.20 308.00V306.80H513.50V308.00" fill="none" stroke="#111" stroke-width="0.7"/>
<text x="504.75" y="307.30" font-size="9.6" text-anchor="middle" fill="#111" stroke="#111" stroke-width="0.4">**</text>
<path d="M505.10 315.00V313.80H513.50V315.00" fill="none" stroke="#111" stroke-width="0.7"/>
<text x="509.70" y="314.30" font-size="9.6" text-anchor="middle" fill="#111" stroke="#111" stroke-width="0.4">**</text>
<rect x="228.50" y="420.00" width="11.5" height="4.3" fill="#0a0a0a"/>
<text x="241.20" y="425.20" font-size="8.7" fill="#111" stroke="#111" stroke-width="0.22">Vehicle</text>
<rect x="276.70" y="420.00" width="11.5" height="4.3" fill="#d6d6d6"/>
<text x="290.00" y="425.20" font-size="8.7" fill="#111" stroke="#111" stroke-width="0.22">UNC0642</text>
<rect x="335.20" y="420.00" width="11.5" height="4.3" fill="#6e6e6e"/>
<text x="348.50" y="425.20" font-size="8.7" fill="#111" stroke="#111" stroke-width="0.22">GSK126</text>
<rect x="387.80" y="420.00" width="11.5" height="4.3" fill="#ec1c24"/>
<text x="400.80" y="425.20" font-size="8.7" fill="#111" stroke="#111" stroke-width="0.22">UNC0642+GSK126</text>
</g>
</svg>
</body>
</html>
